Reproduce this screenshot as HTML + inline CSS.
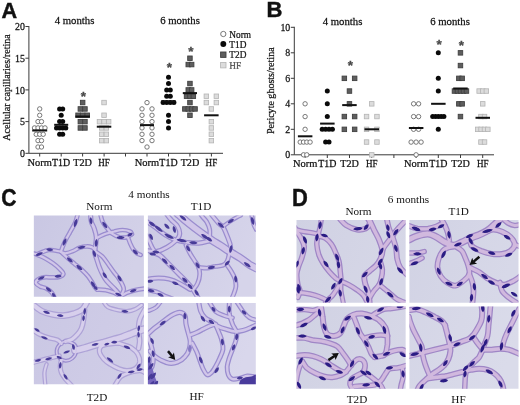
<!DOCTYPE html>
<html><head><meta charset="utf-8"><title>Figure</title>
<style>
html,body{margin:0;padding:0;background:#fff;}
svg{display:block}
text{fill:#111;stroke:#111;stroke-width:0.25px}
.b{stroke:none}
.h{stroke:#111;stroke-width:0.45px}
</style></head><body>
<svg width="520" height="405" viewBox="0 0 520 405">
<rect width="520" height="405" fill="#fff"/>

<text class="h" transform="translate(1.6 17.5) scale(0.95 1)" font-size="22.8" font-weight="bold" font-family='"Liberation Sans", sans-serif'>A</text>
<text transform="translate(74.50 23.50) scale(0.96 1)" font-size="11.2" text-anchor="middle" font-family='"Liberation Serif", serif'>4 months</text>
<text transform="translate(180.00 23.50) scale(0.96 1)" font-size="11.2" text-anchor="middle" font-family='"Liberation Serif", serif'>6 months</text>
<path d="M28.9 26.000000000000014V153.3H223" fill="none" stroke="#3a3a3a" stroke-width="1"/>
<path d="M39.7 153.3v3.2" stroke="#3a3a3a" stroke-width="1"/>
<path d="M61.2 153.3v3.2" stroke="#3a3a3a" stroke-width="1"/>
<path d="M82.6 153.3v3.2" stroke="#3a3a3a" stroke-width="1"/>
<path d="M104.1 153.3v3.2" stroke="#3a3a3a" stroke-width="1"/>
<path d="M125.5 153.3v3.2" stroke="#3a3a3a" stroke-width="1"/>
<path d="M147.0 153.3v3.2" stroke="#3a3a3a" stroke-width="1"/>
<path d="M168.5 153.3v3.2" stroke="#3a3a3a" stroke-width="1"/>
<path d="M189.9 153.3v3.2" stroke="#3a3a3a" stroke-width="1"/>
<path d="M211.4 153.3v3.2" stroke="#3a3a3a" stroke-width="1"/>
<path d="M28.9 153.3h-3.5" stroke="#3a3a3a" stroke-width="1"/>
<text transform="translate(24.90 156.90) scale(0.92 1)" font-size="10.8" text-anchor="end" font-family='"Liberation Serif", serif'>0</text>
<path d="M28.9 121.6h-3.5" stroke="#3a3a3a" stroke-width="1"/>
<text transform="translate(24.90 125.20) scale(0.92 1)" font-size="10.8" text-anchor="end" font-family='"Liberation Serif", serif'>5</text>
<path d="M28.9 89.9h-3.5" stroke="#3a3a3a" stroke-width="1"/>
<text transform="translate(24.90 93.50) scale(0.92 1)" font-size="10.8" text-anchor="end" font-family='"Liberation Serif", serif'>10</text>
<path d="M28.9 58.2h-3.5" stroke="#3a3a3a" stroke-width="1"/>
<text transform="translate(24.90 61.80) scale(0.92 1)" font-size="10.8" text-anchor="end" font-family='"Liberation Serif", serif'>15</text>
<path d="M28.9 26.5h-3.5" stroke="#3a3a3a" stroke-width="1"/>
<text transform="translate(24.90 30.10) scale(0.92 1)" font-size="10.8" text-anchor="end" font-family='"Liberation Serif", serif'>20</text>
<text transform="translate(39.70 165.60) scale(0.97 1)" font-size="10.8" text-anchor="middle" font-family='"Liberation Serif", serif'>Norm</text>
<text transform="translate(61.16 165.60) scale(0.92 1)" font-size="10.8" text-anchor="middle" font-family='"Liberation Serif", serif'>T1D</text>
<text transform="translate(82.62 165.60) scale(0.94 1)" font-size="10.8" text-anchor="middle" font-family='"Liberation Serif", serif'>T2D</text>
<text transform="translate(104.08 165.60) scale(0.84 1)" font-size="10.8" text-anchor="middle" font-family='"Liberation Serif", serif'>HF</text>
<text transform="translate(147.00 165.60) scale(0.97 1)" font-size="10.8" text-anchor="middle" font-family='"Liberation Serif", serif'>Norm</text>
<text transform="translate(168.46 165.60) scale(0.92 1)" font-size="10.8" text-anchor="middle" font-family='"Liberation Serif", serif'>T1D</text>
<text transform="translate(189.92 165.60) scale(0.94 1)" font-size="10.8" text-anchor="middle" font-family='"Liberation Serif", serif'>T2D</text>
<text transform="translate(211.38 165.60) scale(0.84 1)" font-size="10.8" text-anchor="middle" font-family='"Liberation Serif", serif'>HF</text>
<text transform="translate(9.9 87.5) rotate(-90) scale(0.92 1)" font-size="10.9" text-anchor="middle" font-family='"Liberation Serif", serif'>Acellular capillaries/retina</text>
<circle cx="39.7" cy="108.9" r="2.1999999999999997" fill="#fff" stroke="#6a6a6a" stroke-width="0.9"/>
<circle cx="39.7" cy="115.3" r="2.1999999999999997" fill="#fff" stroke="#6a6a6a" stroke-width="0.9"/>
<circle cx="38.0" cy="121.6" r="2.1999999999999997" fill="#fff" stroke="#6a6a6a" stroke-width="0.9"/>
<circle cx="41.5" cy="121.6" r="2.1999999999999997" fill="#fff" stroke="#6a6a6a" stroke-width="0.9"/>
<circle cx="34.5" cy="127.9" r="2.1999999999999997" fill="#fff" stroke="#6a6a6a" stroke-width="0.9"/>
<circle cx="38.0" cy="127.9" r="2.1999999999999997" fill="#fff" stroke="#6a6a6a" stroke-width="0.9"/>
<circle cx="41.5" cy="127.9" r="2.1999999999999997" fill="#fff" stroke="#6a6a6a" stroke-width="0.9"/>
<circle cx="45.0" cy="127.9" r="2.1999999999999997" fill="#fff" stroke="#6a6a6a" stroke-width="0.9"/>
<circle cx="36.2" cy="134.3" r="2.1999999999999997" fill="#fff" stroke="#6a6a6a" stroke-width="0.9"/>
<circle cx="39.7" cy="134.3" r="2.1999999999999997" fill="#fff" stroke="#6a6a6a" stroke-width="0.9"/>
<circle cx="43.2" cy="134.3" r="2.1999999999999997" fill="#fff" stroke="#6a6a6a" stroke-width="0.9"/>
<circle cx="38.0" cy="140.6" r="2.1999999999999997" fill="#fff" stroke="#6a6a6a" stroke-width="0.9"/>
<circle cx="41.5" cy="140.6" r="2.1999999999999997" fill="#fff" stroke="#6a6a6a" stroke-width="0.9"/>
<circle cx="38.0" cy="147.0" r="2.1999999999999997" fill="#fff" stroke="#6a6a6a" stroke-width="0.9"/>
<circle cx="41.5" cy="147.0" r="2.1999999999999997" fill="#fff" stroke="#6a6a6a" stroke-width="0.9"/>
<rect x="32.2" y="129.5" width="15" height="2" fill="#111"/>
<circle cx="59.6" cy="108.9" r="2.5" fill="#0a0a0a"/>
<circle cx="62.7" cy="108.9" r="2.5" fill="#0a0a0a"/>
<circle cx="61.2" cy="115.3" r="2.5" fill="#0a0a0a"/>
<circle cx="59.6" cy="121.6" r="2.5" fill="#0a0a0a"/>
<circle cx="62.7" cy="121.6" r="2.5" fill="#0a0a0a"/>
<circle cx="56.5" cy="127.9" r="2.5" fill="#0a0a0a"/>
<circle cx="59.6" cy="127.9" r="2.5" fill="#0a0a0a"/>
<circle cx="62.7" cy="127.9" r="2.5" fill="#0a0a0a"/>
<circle cx="65.8" cy="127.9" r="2.5" fill="#0a0a0a"/>
<circle cx="59.6" cy="134.3" r="2.5" fill="#0a0a0a"/>
<circle cx="62.7" cy="134.3" r="2.5" fill="#0a0a0a"/>
<rect x="54.2" y="123.8" width="14" height="2" fill="#111"/>
<rect x="80.4" y="100.3" width="4.5" height="4.5" fill="#5e5e5e" stroke="#404040" stroke-width="0.9"/>
<rect x="78.1" y="106.7" width="4.5" height="4.5" fill="#5e5e5e" stroke="#404040" stroke-width="0.9"/>
<rect x="82.7" y="106.7" width="4.5" height="4.5" fill="#5e5e5e" stroke="#404040" stroke-width="0.9"/>
<rect x="75.8" y="113.0" width="4.5" height="4.5" fill="#5e5e5e" stroke="#404040" stroke-width="0.9"/>
<rect x="80.4" y="113.0" width="4.5" height="4.5" fill="#5e5e5e" stroke="#404040" stroke-width="0.9"/>
<rect x="85.0" y="113.0" width="4.5" height="4.5" fill="#5e5e5e" stroke="#404040" stroke-width="0.9"/>
<rect x="78.1" y="119.4" width="4.5" height="4.5" fill="#5e5e5e" stroke="#404040" stroke-width="0.9"/>
<rect x="82.7" y="119.4" width="4.5" height="4.5" fill="#5e5e5e" stroke="#404040" stroke-width="0.9"/>
<rect x="78.1" y="125.7" width="4.5" height="4.5" fill="#5e5e5e" stroke="#404040" stroke-width="0.9"/>
<rect x="82.7" y="125.7" width="4.5" height="4.5" fill="#5e5e5e" stroke="#404040" stroke-width="0.9"/>
<rect x="75.4" y="115.5" width="14.5" height="2" fill="#111"/>
<rect x="101.8" y="100.3" width="4.5" height="4.5" fill="#dcdcdc" stroke="#b4b4b4" stroke-width="0.8"/>
<rect x="101.8" y="113.0" width="4.5" height="4.5" fill="#dcdcdc" stroke="#b4b4b4" stroke-width="0.8"/>
<rect x="97.2" y="119.4" width="4.5" height="4.5" fill="#dcdcdc" stroke="#b4b4b4" stroke-width="0.8"/>
<rect x="101.8" y="119.4" width="4.5" height="4.5" fill="#dcdcdc" stroke="#b4b4b4" stroke-width="0.8"/>
<rect x="106.4" y="119.4" width="4.5" height="4.5" fill="#dcdcdc" stroke="#b4b4b4" stroke-width="0.8"/>
<rect x="99.5" y="125.7" width="4.5" height="4.5" fill="#dcdcdc" stroke="#b4b4b4" stroke-width="0.8"/>
<rect x="104.1" y="125.7" width="4.5" height="4.5" fill="#dcdcdc" stroke="#b4b4b4" stroke-width="0.8"/>
<rect x="99.5" y="132.0" width="4.5" height="4.5" fill="#dcdcdc" stroke="#b4b4b4" stroke-width="0.8"/>
<rect x="104.1" y="132.0" width="4.5" height="4.5" fill="#dcdcdc" stroke="#b4b4b4" stroke-width="0.8"/>
<rect x="99.5" y="138.4" width="4.5" height="4.5" fill="#dcdcdc" stroke="#b4b4b4" stroke-width="0.8"/>
<rect x="104.1" y="138.4" width="4.5" height="4.5" fill="#dcdcdc" stroke="#b4b4b4" stroke-width="0.8"/>
<rect x="96.8" y="125.7" width="14.5" height="2" fill="#111"/>
<text x="83.5" y="101.1" font-size="13.5" font-weight="bold" text-anchor="middle" style="fill:#4a4a4a;stroke:#4a4a4a;stroke-width:0.3px" font-family='"Liberation Sans", sans-serif'>*</text>
<circle cx="147.0" cy="102.6" r="2.1999999999999997" fill="#fff" stroke="#6a6a6a" stroke-width="0.9"/>
<circle cx="142.0" cy="108.9" r="2.1999999999999997" fill="#fff" stroke="#6a6a6a" stroke-width="0.9"/>
<circle cx="152.0" cy="108.9" r="2.1999999999999997" fill="#fff" stroke="#6a6a6a" stroke-width="0.9"/>
<circle cx="142.0" cy="115.3" r="2.1999999999999997" fill="#fff" stroke="#6a6a6a" stroke-width="0.9"/>
<circle cx="152.0" cy="115.3" r="2.1999999999999997" fill="#fff" stroke="#6a6a6a" stroke-width="0.9"/>
<circle cx="142.0" cy="121.6" r="2.1999999999999997" fill="#fff" stroke="#6a6a6a" stroke-width="0.9"/>
<circle cx="152.0" cy="121.6" r="2.1999999999999997" fill="#fff" stroke="#6a6a6a" stroke-width="0.9"/>
<circle cx="142.0" cy="127.9" r="2.1999999999999997" fill="#fff" stroke="#6a6a6a" stroke-width="0.9"/>
<circle cx="152.0" cy="127.9" r="2.1999999999999997" fill="#fff" stroke="#6a6a6a" stroke-width="0.9"/>
<circle cx="142.0" cy="134.3" r="2.1999999999999997" fill="#fff" stroke="#6a6a6a" stroke-width="0.9"/>
<circle cx="152.0" cy="134.3" r="2.1999999999999997" fill="#fff" stroke="#6a6a6a" stroke-width="0.9"/>
<circle cx="142.0" cy="140.6" r="2.1999999999999997" fill="#fff" stroke="#6a6a6a" stroke-width="0.9"/>
<circle cx="152.0" cy="140.6" r="2.1999999999999997" fill="#fff" stroke="#6a6a6a" stroke-width="0.9"/>
<circle cx="147.0" cy="147.0" r="2.1999999999999997" fill="#fff" stroke="#6a6a6a" stroke-width="0.9"/>
<rect x="140.0" y="124.1" width="14" height="2" fill="#111"/>
<circle cx="168.5" cy="77.2" r="2.5" fill="#0a0a0a"/>
<circle cx="168.5" cy="83.6" r="2.5" fill="#0a0a0a"/>
<circle cx="166.7" cy="89.9" r="2.5" fill="#0a0a0a"/>
<circle cx="170.3" cy="89.9" r="2.5" fill="#0a0a0a"/>
<circle cx="166.7" cy="96.2" r="2.5" fill="#0a0a0a"/>
<circle cx="170.3" cy="96.2" r="2.5" fill="#0a0a0a"/>
<circle cx="163.1" cy="102.6" r="2.5" fill="#0a0a0a"/>
<circle cx="166.7" cy="102.6" r="2.5" fill="#0a0a0a"/>
<circle cx="170.3" cy="102.6" r="2.5" fill="#0a0a0a"/>
<circle cx="173.9" cy="102.6" r="2.5" fill="#0a0a0a"/>
<circle cx="168.5" cy="115.3" r="2.5" fill="#0a0a0a"/>
<circle cx="168.5" cy="121.6" r="2.5" fill="#0a0a0a"/>
<circle cx="168.5" cy="127.9" r="2.5" fill="#0a0a0a"/>
<rect x="161.2" y="100.3" width="14.5" height="2" fill="#111"/>
<rect x="187.7" y="56.0" width="4.5" height="4.5" fill="#5e5e5e" stroke="#404040" stroke-width="0.9"/>
<rect x="186.0" y="62.3" width="4.5" height="4.5" fill="#5e5e5e" stroke="#404040" stroke-width="0.9"/>
<rect x="189.4" y="62.3" width="4.5" height="4.5" fill="#5e5e5e" stroke="#404040" stroke-width="0.9"/>
<rect x="187.7" y="81.3" width="4.5" height="4.5" fill="#5e5e5e" stroke="#404040" stroke-width="0.9"/>
<rect x="186.0" y="87.7" width="4.5" height="4.5" fill="#5e5e5e" stroke="#404040" stroke-width="0.9"/>
<rect x="189.4" y="87.7" width="4.5" height="4.5" fill="#5e5e5e" stroke="#404040" stroke-width="0.9"/>
<rect x="184.3" y="94.0" width="4.5" height="4.5" fill="#5e5e5e" stroke="#404040" stroke-width="0.9"/>
<rect x="187.7" y="94.0" width="4.5" height="4.5" fill="#5e5e5e" stroke="#404040" stroke-width="0.9"/>
<rect x="191.1" y="94.0" width="4.5" height="4.5" fill="#5e5e5e" stroke="#404040" stroke-width="0.9"/>
<rect x="187.7" y="100.3" width="4.5" height="4.5" fill="#5e5e5e" stroke="#404040" stroke-width="0.9"/>
<rect x="182.6" y="106.7" width="4.5" height="4.5" fill="#5e5e5e" stroke="#404040" stroke-width="0.9"/>
<rect x="186.0" y="106.7" width="4.5" height="4.5" fill="#5e5e5e" stroke="#404040" stroke-width="0.9"/>
<rect x="189.4" y="106.7" width="4.5" height="4.5" fill="#5e5e5e" stroke="#404040" stroke-width="0.9"/>
<rect x="192.8" y="106.7" width="4.5" height="4.5" fill="#5e5e5e" stroke="#404040" stroke-width="0.9"/>
<rect x="187.7" y="113.0" width="4.5" height="4.5" fill="#5e5e5e" stroke="#404040" stroke-width="0.9"/>
<rect x="182.8" y="92.1" width="14.2" height="2" fill="#111"/>
<rect x="204.1" y="94.0" width="4.5" height="4.5" fill="#dcdcdc" stroke="#b4b4b4" stroke-width="0.8"/>
<rect x="214.1" y="94.0" width="4.5" height="4.5" fill="#dcdcdc" stroke="#b4b4b4" stroke-width="0.8"/>
<rect x="204.1" y="100.3" width="4.5" height="4.5" fill="#dcdcdc" stroke="#b4b4b4" stroke-width="0.8"/>
<rect x="214.1" y="100.3" width="4.5" height="4.5" fill="#dcdcdc" stroke="#b4b4b4" stroke-width="0.8"/>
<rect x="209.1" y="106.7" width="4.5" height="4.5" fill="#dcdcdc" stroke="#b4b4b4" stroke-width="0.8"/>
<rect x="209.1" y="119.4" width="4.5" height="4.5" fill="#dcdcdc" stroke="#b4b4b4" stroke-width="0.8"/>
<rect x="209.1" y="125.7" width="4.5" height="4.5" fill="#dcdcdc" stroke="#b4b4b4" stroke-width="0.8"/>
<rect x="209.1" y="132.0" width="4.5" height="4.5" fill="#dcdcdc" stroke="#b4b4b4" stroke-width="0.8"/>
<rect x="209.1" y="138.4" width="4.5" height="4.5" fill="#dcdcdc" stroke="#b4b4b4" stroke-width="0.8"/>
<rect x="204.1" y="114.3" width="14.5" height="2" fill="#111"/>
<text x="169.4" y="71.6" font-size="13.5" font-weight="bold" text-anchor="middle" style="fill:#4a4a4a;stroke:#4a4a4a;stroke-width:0.3px" font-family='"Liberation Sans", sans-serif'>*</text>
<text x="190.8" y="56.1" font-size="13.5" font-weight="bold" text-anchor="middle" style="fill:#4a4a4a;stroke:#4a4a4a;stroke-width:0.3px" font-family='"Liberation Sans", sans-serif'>*</text>
<circle cx="223.3" cy="34.0" r="2.65" fill="#fff" stroke="#6a6a6a" stroke-width="0.9"/>
<text transform="translate(229.30 37.50) scale(0.88 1)" font-size="10.6" text-anchor="start" font-family='"Liberation Serif", serif' style="fill:#111">Norm</text>
<circle cx="223.3" cy="44.0" r="2.95" fill="#0a0a0a"/>
<text transform="translate(229.30 47.50) scale(0.88 1)" font-size="10.6" text-anchor="start" font-family='"Liberation Serif", serif' style="fill:#111">T1D</text>
<rect x="220.6" y="52.0" width="5.4" height="5.4" fill="#5e5e5e" stroke="#404040" stroke-width="0.9"/>
<text transform="translate(229.30 58.20) scale(0.88 1)" font-size="10.6" text-anchor="start" font-family='"Liberation Serif", serif' style="fill:#222">T2D</text>
<rect x="220.6" y="62.5" width="5.4" height="5.4" fill="#dcdcdc" stroke="#b4b4b4" stroke-width="0.8"/>
<text transform="translate(229.30 68.70) scale(0.88 1)" font-size="10.6" text-anchor="start" font-family='"Liberation Serif", serif' style="fill:#777">HF</text>
<text class="h" transform="translate(266.5 16.75) scale(1.0 1)" font-size="22" font-weight="bold" font-family='"Liberation Sans", sans-serif'>B</text>
<text transform="translate(342.50 25.30) scale(0.96 1)" font-size="11.2" text-anchor="middle" font-family='"Liberation Serif", serif'>4 months</text>
<text transform="translate(450.00 25.30) scale(0.96 1)" font-size="11.2" text-anchor="middle" font-family='"Liberation Serif", serif'>6 months</text>
<path d="M294.3 26.80000000000001V154.8H494" fill="none" stroke="#3a3a3a" stroke-width="1"/>
<path d="M305.1 154.8v3.2" stroke="#3a3a3a" stroke-width="1"/>
<path d="M327.3 154.8v3.2" stroke="#3a3a3a" stroke-width="1"/>
<path d="M349.5 154.8v3.2" stroke="#3a3a3a" stroke-width="1"/>
<path d="M371.7 154.8v3.2" stroke="#3a3a3a" stroke-width="1"/>
<path d="M393.9 154.8v3.2" stroke="#3a3a3a" stroke-width="1"/>
<path d="M416.1 154.8v3.2" stroke="#3a3a3a" stroke-width="1"/>
<path d="M438.3 154.8v3.2" stroke="#3a3a3a" stroke-width="1"/>
<path d="M460.5 154.8v3.2" stroke="#3a3a3a" stroke-width="1"/>
<path d="M482.7 154.8v3.2" stroke="#3a3a3a" stroke-width="1"/>
<path d="M294.3 154.8h-3.5" stroke="#3a3a3a" stroke-width="1"/>
<text transform="translate(290.30 158.40) scale(0.92 1)" font-size="10.8" text-anchor="end" font-family='"Liberation Serif", serif'>0</text>
<path d="M294.3 129.3h-3.5" stroke="#3a3a3a" stroke-width="1"/>
<text transform="translate(290.30 132.90) scale(0.92 1)" font-size="10.8" text-anchor="end" font-family='"Liberation Serif", serif'>2</text>
<path d="M294.3 103.8h-3.5" stroke="#3a3a3a" stroke-width="1"/>
<text transform="translate(290.30 107.40) scale(0.92 1)" font-size="10.8" text-anchor="end" font-family='"Liberation Serif", serif'>4</text>
<path d="M294.3 78.3h-3.5" stroke="#3a3a3a" stroke-width="1"/>
<text transform="translate(290.30 81.90) scale(0.92 1)" font-size="10.8" text-anchor="end" font-family='"Liberation Serif", serif'>6</text>
<path d="M294.3 52.8h-3.5" stroke="#3a3a3a" stroke-width="1"/>
<text transform="translate(290.30 56.40) scale(0.92 1)" font-size="10.8" text-anchor="end" font-family='"Liberation Serif", serif'>8</text>
<path d="M294.3 27.3h-3.5" stroke="#3a3a3a" stroke-width="1"/>
<text transform="translate(290.30 30.90) scale(0.92 1)" font-size="10.8" text-anchor="end" font-family='"Liberation Serif", serif'>10</text>
<text transform="translate(305.10 167.30) scale(0.97 1)" font-size="10.8" text-anchor="middle" font-family='"Liberation Serif", serif'>Norm</text>
<text transform="translate(327.30 167.30) scale(0.92 1)" font-size="10.8" text-anchor="middle" font-family='"Liberation Serif", serif'>T1D</text>
<text transform="translate(349.50 167.30) scale(0.94 1)" font-size="10.8" text-anchor="middle" font-family='"Liberation Serif", serif'>T2D</text>
<text transform="translate(371.70 167.30) scale(0.84 1)" font-size="10.8" text-anchor="middle" font-family='"Liberation Serif", serif'>HF</text>
<text transform="translate(416.10 167.30) scale(0.97 1)" font-size="10.8" text-anchor="middle" font-family='"Liberation Serif", serif'>Norm</text>
<text transform="translate(438.30 167.30) scale(0.92 1)" font-size="10.8" text-anchor="middle" font-family='"Liberation Serif", serif'>T1D</text>
<text transform="translate(460.50 167.30) scale(0.94 1)" font-size="10.8" text-anchor="middle" font-family='"Liberation Serif", serif'>T2D</text>
<text transform="translate(482.70 167.30) scale(0.84 1)" font-size="10.8" text-anchor="middle" font-family='"Liberation Serif", serif'>HF</text>
<text transform="translate(274.3 90.7) rotate(-90) scale(0.92 1)" font-size="10.9" text-anchor="middle" font-family='"Liberation Serif", serif'>Pericyte ghosts/retina</text>
<circle cx="305.1" cy="103.8" r="2.1999999999999997" fill="#fff" stroke="#6a6a6a" stroke-width="0.9"/>
<circle cx="305.1" cy="116.6" r="2.1999999999999997" fill="#fff" stroke="#6a6a6a" stroke-width="0.9"/>
<circle cx="305.1" cy="129.3" r="2.1999999999999997" fill="#fff" stroke="#6a6a6a" stroke-width="0.9"/>
<circle cx="300.2" cy="142.1" r="2.1999999999999997" fill="#fff" stroke="#6a6a6a" stroke-width="0.9"/>
<circle cx="303.5" cy="142.1" r="2.1999999999999997" fill="#fff" stroke="#6a6a6a" stroke-width="0.9"/>
<circle cx="306.8" cy="142.1" r="2.1999999999999997" fill="#fff" stroke="#6a6a6a" stroke-width="0.9"/>
<circle cx="310.1" cy="142.1" r="2.1999999999999997" fill="#fff" stroke="#6a6a6a" stroke-width="0.9"/>
<circle cx="303.5" cy="154.8" r="2.1999999999999997" fill="#fff" stroke="#6a6a6a" stroke-width="0.9"/>
<circle cx="306.8" cy="154.8" r="2.1999999999999997" fill="#fff" stroke="#6a6a6a" stroke-width="0.9"/>
<rect x="297.9" y="135.3" width="14.5" height="2" fill="#111"/>
<circle cx="327.3" cy="91.1" r="2.5" fill="#0a0a0a"/>
<circle cx="327.3" cy="103.8" r="2.5" fill="#0a0a0a"/>
<circle cx="327.3" cy="116.6" r="2.5" fill="#0a0a0a"/>
<circle cx="322.2" cy="129.3" r="2.5" fill="#0a0a0a"/>
<circle cx="325.6" cy="129.3" r="2.5" fill="#0a0a0a"/>
<circle cx="329.0" cy="129.3" r="2.5" fill="#0a0a0a"/>
<circle cx="332.4" cy="129.3" r="2.5" fill="#0a0a0a"/>
<circle cx="325.6" cy="142.1" r="2.5" fill="#0a0a0a"/>
<circle cx="329.0" cy="142.1" r="2.5" fill="#0a0a0a"/>
<rect x="320.1" y="122.6" width="14.5" height="2" fill="#111"/>
<rect x="342.1" y="76.1" width="4.5" height="4.5" fill="#5e5e5e" stroke="#404040" stroke-width="0.9"/>
<rect x="352.4" y="76.1" width="4.5" height="4.5" fill="#5e5e5e" stroke="#404040" stroke-width="0.9"/>
<rect x="347.2" y="88.8" width="4.5" height="4.5" fill="#5e5e5e" stroke="#404040" stroke-width="0.9"/>
<rect x="347.2" y="101.6" width="4.5" height="4.5" fill="#5e5e5e" stroke="#404040" stroke-width="0.9"/>
<rect x="342.1" y="114.3" width="4.5" height="4.5" fill="#5e5e5e" stroke="#404040" stroke-width="0.9"/>
<rect x="352.4" y="114.3" width="4.5" height="4.5" fill="#5e5e5e" stroke="#404040" stroke-width="0.9"/>
<rect x="342.1" y="127.1" width="4.5" height="4.5" fill="#5e5e5e" stroke="#404040" stroke-width="0.9"/>
<rect x="352.4" y="127.1" width="4.5" height="4.5" fill="#5e5e5e" stroke="#404040" stroke-width="0.9"/>
<rect x="342.2" y="104.1" width="14.5" height="2" fill="#111"/>
<rect x="369.5" y="101.6" width="4.5" height="4.5" fill="#dcdcdc" stroke="#b4b4b4" stroke-width="0.8"/>
<rect x="364.3" y="114.3" width="4.5" height="4.5" fill="#dcdcdc" stroke="#b4b4b4" stroke-width="0.8"/>
<rect x="374.7" y="114.3" width="4.5" height="4.5" fill="#dcdcdc" stroke="#b4b4b4" stroke-width="0.8"/>
<rect x="364.3" y="127.1" width="4.5" height="4.5" fill="#dcdcdc" stroke="#b4b4b4" stroke-width="0.8"/>
<rect x="374.7" y="127.1" width="4.5" height="4.5" fill="#dcdcdc" stroke="#b4b4b4" stroke-width="0.8"/>
<rect x="364.3" y="139.8" width="4.5" height="4.5" fill="#dcdcdc" stroke="#b4b4b4" stroke-width="0.8"/>
<rect x="374.7" y="139.8" width="4.5" height="4.5" fill="#dcdcdc" stroke="#b4b4b4" stroke-width="0.8"/>
<rect x="369.5" y="152.6" width="4.5" height="4.5" fill="#dcdcdc" stroke="#b4b4b4" stroke-width="0.8"/>
<rect x="364.5" y="128.3" width="14.5" height="2" fill="#111"/>
<text x="350.4" y="70.1" font-size="13.5" font-weight="bold" text-anchor="middle" style="fill:#4a4a4a;stroke:#4a4a4a;stroke-width:0.3px" font-family='"Liberation Sans", sans-serif'>*</text>
<circle cx="413.6" cy="103.8" r="2.1999999999999997" fill="#fff" stroke="#6a6a6a" stroke-width="0.9"/>
<circle cx="418.6" cy="103.8" r="2.1999999999999997" fill="#fff" stroke="#6a6a6a" stroke-width="0.9"/>
<circle cx="413.6" cy="116.6" r="2.1999999999999997" fill="#fff" stroke="#6a6a6a" stroke-width="0.9"/>
<circle cx="418.6" cy="116.6" r="2.1999999999999997" fill="#fff" stroke="#6a6a6a" stroke-width="0.9"/>
<circle cx="413.6" cy="129.3" r="2.1999999999999997" fill="#fff" stroke="#6a6a6a" stroke-width="0.9"/>
<circle cx="418.6" cy="129.3" r="2.1999999999999997" fill="#fff" stroke="#6a6a6a" stroke-width="0.9"/>
<circle cx="411.1" cy="142.1" r="2.1999999999999997" fill="#fff" stroke="#6a6a6a" stroke-width="0.9"/>
<circle cx="416.1" cy="142.1" r="2.1999999999999997" fill="#fff" stroke="#6a6a6a" stroke-width="0.9"/>
<circle cx="421.1" cy="142.1" r="2.1999999999999997" fill="#fff" stroke="#6a6a6a" stroke-width="0.9"/>
<circle cx="416.1" cy="154.8" r="2.1999999999999997" fill="#fff" stroke="#6a6a6a" stroke-width="0.9"/>
<rect x="408.9" y="127.0" width="14.5" height="2" fill="#111"/>
<circle cx="438.3" cy="52.8" r="2.5" fill="#0a0a0a"/>
<circle cx="438.3" cy="78.3" r="2.5" fill="#0a0a0a"/>
<circle cx="438.3" cy="91.1" r="2.5" fill="#0a0a0a"/>
<circle cx="432.7" cy="116.6" r="2.5" fill="#0a0a0a"/>
<circle cx="435.5" cy="116.6" r="2.5" fill="#0a0a0a"/>
<circle cx="438.3" cy="116.6" r="2.5" fill="#0a0a0a"/>
<circle cx="441.1" cy="116.6" r="2.5" fill="#0a0a0a"/>
<circle cx="443.9" cy="116.6" r="2.5" fill="#0a0a0a"/>
<circle cx="438.3" cy="129.3" r="2.5" fill="#0a0a0a"/>
<rect x="431.1" y="102.8" width="14.5" height="2" fill="#111"/>
<rect x="458.2" y="50.6" width="4.5" height="4.5" fill="#5e5e5e" stroke="#404040" stroke-width="0.9"/>
<rect x="458.2" y="63.3" width="4.5" height="4.5" fill="#5e5e5e" stroke="#404040" stroke-width="0.9"/>
<rect x="456.6" y="76.1" width="4.5" height="4.5" fill="#5e5e5e" stroke="#404040" stroke-width="0.9"/>
<rect x="459.9" y="76.1" width="4.5" height="4.5" fill="#5e5e5e" stroke="#404040" stroke-width="0.9"/>
<rect x="452.2" y="88.8" width="4.5" height="4.5" fill="#5e5e5e" stroke="#404040" stroke-width="0.9"/>
<rect x="455.2" y="88.8" width="4.5" height="4.5" fill="#5e5e5e" stroke="#404040" stroke-width="0.9"/>
<rect x="458.2" y="88.8" width="4.5" height="4.5" fill="#5e5e5e" stroke="#404040" stroke-width="0.9"/>
<rect x="461.2" y="88.8" width="4.5" height="4.5" fill="#5e5e5e" stroke="#404040" stroke-width="0.9"/>
<rect x="464.2" y="88.8" width="4.5" height="4.5" fill="#5e5e5e" stroke="#404040" stroke-width="0.9"/>
<rect x="456.6" y="101.6" width="4.5" height="4.5" fill="#5e5e5e" stroke="#404040" stroke-width="0.9"/>
<rect x="459.9" y="101.6" width="4.5" height="4.5" fill="#5e5e5e" stroke="#404040" stroke-width="0.9"/>
<rect x="458.2" y="114.3" width="4.5" height="4.5" fill="#5e5e5e" stroke="#404040" stroke-width="0.9"/>
<rect x="453.2" y="87.5" width="14.5" height="2" fill="#111"/>
<rect x="476.9" y="88.8" width="4.5" height="4.5" fill="#dcdcdc" stroke="#b4b4b4" stroke-width="0.8"/>
<rect x="480.5" y="88.8" width="4.5" height="4.5" fill="#dcdcdc" stroke="#b4b4b4" stroke-width="0.8"/>
<rect x="484.1" y="88.8" width="4.5" height="4.5" fill="#dcdcdc" stroke="#b4b4b4" stroke-width="0.8"/>
<rect x="480.5" y="101.6" width="4.5" height="4.5" fill="#dcdcdc" stroke="#b4b4b4" stroke-width="0.8"/>
<rect x="478.7" y="114.3" width="4.5" height="4.5" fill="#dcdcdc" stroke="#b4b4b4" stroke-width="0.8"/>
<rect x="482.3" y="114.3" width="4.5" height="4.5" fill="#dcdcdc" stroke="#b4b4b4" stroke-width="0.8"/>
<rect x="475.4" y="127.1" width="4.5" height="4.5" fill="#dcdcdc" stroke="#b4b4b4" stroke-width="0.8"/>
<rect x="478.8" y="127.1" width="4.5" height="4.5" fill="#dcdcdc" stroke="#b4b4b4" stroke-width="0.8"/>
<rect x="482.2" y="127.1" width="4.5" height="4.5" fill="#dcdcdc" stroke="#b4b4b4" stroke-width="0.8"/>
<rect x="485.6" y="127.1" width="4.5" height="4.5" fill="#dcdcdc" stroke="#b4b4b4" stroke-width="0.8"/>
<rect x="478.7" y="139.8" width="4.5" height="4.5" fill="#dcdcdc" stroke="#b4b4b4" stroke-width="0.8"/>
<rect x="482.3" y="139.8" width="4.5" height="4.5" fill="#dcdcdc" stroke="#b4b4b4" stroke-width="0.8"/>
<rect x="475.5" y="116.8" width="14.5" height="2" fill="#111"/>
<text x="439.2" y="48.6" font-size="13.5" font-weight="bold" text-anchor="middle" style="fill:#4a4a4a;stroke:#4a4a4a;stroke-width:0.3px" font-family='"Liberation Sans", sans-serif'>*</text>
<text x="461.4" y="49.6" font-size="13.5" font-weight="bold" text-anchor="middle" style="fill:#4a4a4a;stroke:#4a4a4a;stroke-width:0.3px" font-family='"Liberation Sans", sans-serif'>*</text>
<text class="h" transform="translate(1.2 206.3) scale(0.89 1)" font-size="23.8" font-weight="bold" font-family='"Liberation Sans", sans-serif'>C</text>
<text class="h" transform="translate(292 205.6) scale(0.93 1)" font-size="23.6" font-weight="bold" font-family='"Liberation Sans", sans-serif'>D</text>
<text class="b" x="149" y="197.5" font-size="11.2" text-anchor="middle" font-family='"Liberation Serif", serif'>4 months</text>
<text class="b" x="99.3" y="210" font-size="11.2" text-anchor="middle" font-family='"Liberation Serif", serif'>Norm</text>
<text class="b" x="201" y="210" font-size="11.2" text-anchor="middle" font-family='"Liberation Serif", serif'>T1D</text>
<text class="b" x="97" y="401" font-size="11.2" text-anchor="middle" font-family='"Liberation Serif", serif'>T2D</text>
<text class="b" x="196.6" y="400.4" font-size="11.2" text-anchor="middle" font-family='"Liberation Serif", serif'>HF</text>
<text class="b" x="408.5" y="202.8" font-size="11.2" text-anchor="middle" font-family='"Liberation Serif", serif'>6 months</text>
<text class="b" x="358.5" y="215.1" font-size="11.2" text-anchor="middle" font-family='"Liberation Serif", serif'>Norm</text>
<text class="b" x="458.7" y="215.1" font-size="11.2" text-anchor="middle" font-family='"Liberation Serif", serif'>T1D</text>
<text class="b" x="357" y="403" font-size="11.2" text-anchor="middle" font-family='"Liberation Serif", serif'>T2D</text>
<text class="b" x="458.5" y="403" font-size="11.2" text-anchor="middle" font-family='"Liberation Serif", serif'>HF</text>
<defs><filter id="blurA" x="-5%" y="-5%" width="110%" height="110%"><feGaussianBlur stdDeviation="0.75"/></filter><filter id="blurB" x="-5%" y="-5%" width="110%" height="110%"><feGaussianBlur stdDeviation="0.7"/></filter></defs>
<g transform="translate(33.85 215.6)">
<clipPath id="cpcN"><rect width="110.05" height="81.1"/></clipPath>
<linearGradient id="bgcN" x1="0" y1="0" x2="1" y2="0.3"><stop offset="0" stop-color="#c9c7e3"/><stop offset="1" stop-color="#d3d1e8"/></linearGradient>
<g clip-path="url(#cpcN)">
<rect x="-2" y="-2" width="114.05" height="85.1" fill="url(#bgcN)"/>
<g filter="url(#blurA)" fill="none" stroke-linecap="round" stroke-linejoin="round">
<path d="M43.8 -1.1C43.4 0.4 42.6 4.4 41.2 7.4C39.9 10.4 37.6 13.9 36.0 16.9C34.3 19.9 32.5 22.9 31.3 25.4C30.1 27.9 29.3 30.0 28.6 31.7C27.9 33.5 27.3 35.3 27.1 36.0" stroke="#9a8dcf" stroke-width="4.704000000000001"/>
<path d="M27.1 36.0C26.1 35.8 23.2 35.2 21.2 34.9C19.1 34.6 16.9 34.0 14.8 34.3C12.7 34.5 10.4 35.7 8.5 36.4C6.5 37.1 4.8 38.3 3.2 38.5C1.6 38.7 -0.4 37.8 -1.1 37.7" stroke="#9a8dcf" stroke-width="4.704000000000001"/>
<path d="M27.1 36.4C27.9 36.6 29.7 37.8 31.7 37.7C33.7 37.5 36.8 36.5 39.1 35.5C41.4 34.6 43.2 33.0 45.5 32.2C47.8 31.3 50.8 30.7 52.9 30.7C55.0 30.6 56.8 31.1 58.2 31.7C59.6 32.3 60.8 33.8 61.3 34.3" stroke="#9a8dcf" stroke-width="4.704000000000001"/>
<path d="M56.7 -1.1C56.8 0.2 56.9 4.1 57.5 6.3C58.1 8.6 59.5 10.2 60.3 12.7C61.1 15.2 62.2 18.3 62.4 21.2C62.7 24.0 62.0 27.0 61.8 29.6C61.5 32.3 60.7 34.7 60.9 37.0C61.1 39.3 62.1 40.9 62.8 43.4C63.6 45.8 64.6 49.3 65.6 51.8C66.6 54.4 67.5 56.5 68.8 58.8C70.0 61.1 70.9 63.0 73.0 65.6C75.1 68.1 79.3 71.7 81.4 74.0C83.6 76.3 85.0 78.4 85.7 79.3" stroke="#9a8dcf" stroke-width="5.152"/>
<path d="M66.6 -1.1C67.0 0.2 67.7 4.1 68.8 6.3C69.8 8.6 71.5 10.4 73.0 12.3C74.5 14.2 75.7 16.2 77.8 17.8C80.0 19.3 83.1 20.9 85.7 21.6C88.2 22.2 91.1 22.1 93.1 21.6C95.1 21.1 97.0 19.1 97.7 18.6" stroke="#9a8dcf" stroke-width="4.704000000000001"/>
<path d="M63.0 22.2C64.5 21.5 69.0 19.2 71.9 18.2C74.8 17.1 77.6 16.5 80.4 15.9C83.2 15.2 86.2 14.4 88.8 14.4C91.5 14.4 94.7 15.2 96.2 15.9C97.8 16.6 97.8 18.2 98.2 18.6" stroke="#9a8dcf" stroke-width="4.704000000000001"/>
<path d="M94.1 22.0C94.5 22.9 95.4 25.5 96.2 27.5C97.1 29.5 98.2 32.1 99.4 33.8C100.7 35.6 102.4 37.2 103.7 38.1C104.9 39.0 106.3 39.1 106.8 39.3" stroke="#9a8dcf" stroke-width="4.704000000000001"/>
<path d="M28.6 37.7C29.6 38.6 32.8 41.5 34.9 43.4C37.0 45.2 39.1 46.9 41.2 48.7C43.4 50.4 45.5 52.0 47.6 53.9C49.7 55.9 52.2 58.2 53.9 60.3C55.7 62.4 56.9 64.7 58.2 66.6C59.4 68.6 60.5 70.7 61.3 71.9C62.2 73.2 63.1 73.7 63.5 74.0" stroke="#9a8dcf" stroke-width="4.704000000000001"/>
<path d="M63.5 74.0C64.9 74.1 69.1 73.9 71.9 74.5C74.7 75.0 77.9 76.3 80.4 77.2C82.9 78.1 84.6 80.0 86.7 80.0C88.8 80.0 90.6 78.1 93.1 77.2C95.5 76.3 98.5 75.2 101.5 74.5C104.5 73.8 109.5 73.2 111.1 73.0" stroke="#9a8dcf" stroke-width="4.704000000000001"/>
<path d="M61.8 36.0C62.9 36.8 66.5 39.0 68.8 41.2C71.0 43.5 73.2 47.1 75.1 49.7C77.0 52.4 78.8 55.0 80.4 57.1C82.0 59.2 83.3 60.5 84.6 62.4C86.0 64.3 87.5 66.8 88.4 68.8C89.3 70.7 90.1 72.2 89.9 74.0C89.7 75.9 87.6 79.0 87.2 80.0" stroke="#9a8dcf" stroke-width="4.704000000000001"/>
<path d="M3.2 39.1C4.4 39.7 7.9 40.9 10.6 42.3C13.2 43.7 16.4 45.7 19.0 47.6C21.7 49.5 24.7 52.2 26.4 53.9C28.2 55.7 29.8 56.9 29.6 58.2C29.4 59.4 27.3 60.7 25.4 61.3C23.4 61.9 20.6 61.7 18.0 61.8C15.3 61.8 12.0 61.3 9.5 61.8C7.1 62.2 4.4 63.5 3.2 64.5C1.9 65.5 1.6 66.6 2.1 67.7C2.6 68.8 4.6 70.0 6.3 70.9C8.1 71.7 10.8 71.9 12.7 73.0C14.6 74.0 16.6 75.6 18.0 77.2C19.4 78.9 20.6 82.0 21.2 82.9" stroke="#9a8dcf" stroke-width="4.704000000000001"/>
<path d="M43.8 -1.1C43.4 0.4 42.6 4.4 41.2 7.4C39.9 10.4 37.6 13.9 36.0 16.9C34.3 19.9 32.5 22.9 31.3 25.4C30.1 27.9 29.3 30.0 28.6 31.7C27.9 33.5 27.3 35.3 27.1 36.0" stroke="#d1c6e9" stroke-width="2.2"/>
<path d="M27.1 36.0C26.1 35.8 23.2 35.2 21.2 34.9C19.1 34.6 16.9 34.0 14.8 34.3C12.7 34.5 10.4 35.7 8.5 36.4C6.5 37.1 4.8 38.3 3.2 38.5C1.6 38.7 -0.4 37.8 -1.1 37.7" stroke="#d1c6e9" stroke-width="2.2"/>
<path d="M27.1 36.4C27.9 36.6 29.7 37.8 31.7 37.7C33.7 37.5 36.8 36.5 39.1 35.5C41.4 34.6 43.2 33.0 45.5 32.2C47.8 31.3 50.8 30.7 52.9 30.7C55.0 30.6 56.8 31.1 58.2 31.7C59.6 32.3 60.8 33.8 61.3 34.3" stroke="#d1c6e9" stroke-width="2.2"/>
<path d="M56.7 -1.1C56.8 0.2 56.9 4.1 57.5 6.3C58.1 8.6 59.5 10.2 60.3 12.7C61.1 15.2 62.2 18.3 62.4 21.2C62.7 24.0 62.0 27.0 61.8 29.6C61.5 32.3 60.7 34.7 60.9 37.0C61.1 39.3 62.1 40.9 62.8 43.4C63.6 45.8 64.6 49.3 65.6 51.8C66.6 54.4 67.5 56.5 68.8 58.8C70.0 61.1 70.9 63.0 73.0 65.6C75.1 68.1 79.3 71.7 81.4 74.0C83.6 76.3 85.0 78.4 85.7 79.3" stroke="#d1c6e9" stroke-width="2.7"/>
<path d="M66.6 -1.1C67.0 0.2 67.7 4.1 68.8 6.3C69.8 8.6 71.5 10.4 73.0 12.3C74.5 14.2 75.7 16.2 77.8 17.8C80.0 19.3 83.1 20.9 85.7 21.6C88.2 22.2 91.1 22.1 93.1 21.6C95.1 21.1 97.0 19.1 97.7 18.6" stroke="#d1c6e9" stroke-width="2.2"/>
<path d="M63.0 22.2C64.5 21.5 69.0 19.2 71.9 18.2C74.8 17.1 77.6 16.5 80.4 15.9C83.2 15.2 86.2 14.4 88.8 14.4C91.5 14.4 94.7 15.2 96.2 15.9C97.8 16.6 97.8 18.2 98.2 18.6" stroke="#d1c6e9" stroke-width="2.2"/>
<path d="M94.1 22.0C94.5 22.9 95.4 25.5 96.2 27.5C97.1 29.5 98.2 32.1 99.4 33.8C100.7 35.6 102.4 37.2 103.7 38.1C104.9 39.0 106.3 39.1 106.8 39.3" stroke="#d1c6e9" stroke-width="2.2"/>
<path d="M28.6 37.7C29.6 38.6 32.8 41.5 34.9 43.4C37.0 45.2 39.1 46.9 41.2 48.7C43.4 50.4 45.5 52.0 47.6 53.9C49.7 55.9 52.2 58.2 53.9 60.3C55.7 62.4 56.9 64.7 58.2 66.6C59.4 68.6 60.5 70.7 61.3 71.9C62.2 73.2 63.1 73.7 63.5 74.0" stroke="#d1c6e9" stroke-width="2.2"/>
<path d="M63.5 74.0C64.9 74.1 69.1 73.9 71.9 74.5C74.7 75.0 77.9 76.3 80.4 77.2C82.9 78.1 84.6 80.0 86.7 80.0C88.8 80.0 90.6 78.1 93.1 77.2C95.5 76.3 98.5 75.2 101.5 74.5C104.5 73.8 109.5 73.2 111.1 73.0" stroke="#d1c6e9" stroke-width="2.2"/>
<path d="M61.8 36.0C62.9 36.8 66.5 39.0 68.8 41.2C71.0 43.5 73.2 47.1 75.1 49.7C77.0 52.4 78.8 55.0 80.4 57.1C82.0 59.2 83.3 60.5 84.6 62.4C86.0 64.3 87.5 66.8 88.4 68.8C89.3 70.7 90.1 72.2 89.9 74.0C89.7 75.9 87.6 79.0 87.2 80.0" stroke="#d1c6e9" stroke-width="2.2"/>
<path d="M3.2 39.1C4.4 39.7 7.9 40.9 10.6 42.3C13.2 43.7 16.4 45.7 19.0 47.6C21.7 49.5 24.7 52.2 26.4 53.9C28.2 55.7 29.8 56.9 29.6 58.2C29.4 59.4 27.3 60.7 25.4 61.3C23.4 61.9 20.6 61.7 18.0 61.8C15.3 61.8 12.0 61.3 9.5 61.8C7.1 62.2 4.4 63.5 3.2 64.5C1.9 65.5 1.6 66.6 2.1 67.7C2.6 68.8 4.6 70.0 6.3 70.9C8.1 71.7 10.8 71.9 12.7 73.0C14.6 74.0 16.6 75.6 18.0 77.2C19.4 78.9 20.6 82.0 21.2 82.9" stroke="#d1c6e9" stroke-width="2.2"/>
</g>
<g filter="url(#blurB)">
<path transform="translate(41.7 7.4) rotate(107)" d="M-4.4 0C-2.4 -2.00 2.4 -2.00 4.4 0C2.4 2.00 -2.4 2.00 -4.4 0Z" fill="#473a98"/>
<path transform="translate(30.7 26.4) rotate(113)" d="M-4.0 0C-2.2 -2.00 2.2 -2.00 4.0 0C2.2 2.00 -2.2 2.00 -4.0 0Z" fill="#473a98"/>
<path transform="translate(5.3 38.5) rotate(158)" d="M-4.0 0C-2.2 -2.00 2.2 -2.00 4.0 0C2.2 2.00 -2.2 2.00 -4.0 0Z" fill="#473a98"/>
<path transform="translate(15.9 34.1) rotate(-174)" d="M-3.6 0C-2.0 -2.00 2.0 -2.00 3.6 0C2.0 2.00 -2.0 2.00 -3.6 0Z" fill="#473a98"/>
<path transform="translate(47.6 31.7) rotate(-11)" d="M-4.2 0C-2.3 -2.00 2.3 -2.00 4.2 0C2.3 2.00 -2.3 2.00 -4.2 0Z" fill="#473a98"/>
<path transform="translate(57.1 5.3) rotate(83)" d="M-3.6 0C-2.0 -2.00 2.0 -2.00 3.6 0C2.0 2.00 -2.0 2.00 -3.6 0Z" fill="#473a98"/>
<path transform="translate(62.4 27.5) rotate(94)" d="M-4.0 0C-2.2 -2.00 2.2 -2.00 4.0 0C2.2 2.00 -2.2 2.00 -4.0 0Z" fill="#473a98"/>
<path transform="translate(60.5 38.1) rotate(73)" d="M-3.6 0C-2.0 -2.00 2.0 -2.00 3.6 0C2.0 2.00 -2.0 2.00 -3.6 0Z" fill="#473a98"/>
<path transform="translate(70.9 9.5) rotate(54)" d="M-4.0 0C-2.2 -2.00 2.2 -2.00 4.0 0C2.2 2.00 -2.2 2.00 -4.0 0Z" fill="#473a98"/>
<path transform="translate(86.7 21.8) rotate(0)" d="M-4.0 0C-2.2 -2.00 2.2 -2.00 4.0 0C2.2 2.00 -2.2 2.00 -4.0 0Z" fill="#473a98"/>
<path transform="translate(96.2 19.0) rotate(-32)" d="M-3.1 0C-1.7 -2.00 1.7 -2.00 3.1 0C1.7 2.00 -1.7 2.00 -3.1 0Z" fill="#473a98"/>
<path transform="translate(101.5 36.4) rotate(45)" d="M-3.6 0C-2.0 -2.00 2.0 -2.00 3.6 0C2.0 2.00 -2.0 2.00 -3.6 0Z" fill="#473a98"/>
<path transform="translate(36.0 44.4) rotate(40)" d="M-3.8 0C-2.1 -2.00 2.1 -2.00 3.8 0C2.1 2.00 -2.1 2.00 -3.8 0Z" fill="#473a98"/>
<path transform="translate(45.5 52.0) rotate(40)" d="M-3.8 0C-2.1 -2.00 2.1 -2.00 3.8 0C2.1 2.00 -2.1 2.00 -3.8 0Z" fill="#473a98"/>
<path transform="translate(59.2 68.8) rotate(59)" d="M-3.6 0C-2.0 -2.00 2.0 -2.00 3.6 0C2.0 2.00 -2.0 2.00 -3.6 0Z" fill="#473a98"/>
<path transform="translate(61.8 72.3) rotate(45)" d="M-2.7 0C-1.5 -2.00 1.5 -2.00 2.7 0C1.5 2.00 -1.5 2.00 -2.7 0Z" fill="#473a98"/>
<path transform="translate(84.6 78.9) rotate(23)" d="M-3.6 0C-2.0 -2.00 2.0 -2.00 3.6 0C2.0 2.00 -2.0 2.00 -3.6 0Z" fill="#473a98"/>
<path transform="translate(99.4 75.1) rotate(-18)" d="M-3.6 0C-2.0 -2.00 2.0 -2.00 3.6 0C2.0 2.00 -2.0 2.00 -3.6 0Z" fill="#473a98"/>
<path transform="translate(70.9 59.7) rotate(58)" d="M-3.6 0C-2.0 -2.00 2.0 -2.00 3.6 0C2.0 2.00 -2.0 2.00 -3.6 0Z" fill="#473a98"/>
<path transform="translate(85.7 62.8) rotate(59)" d="M-3.6 0C-2.0 -2.00 2.0 -2.00 3.6 0C2.0 2.00 -2.0 2.00 -3.6 0Z" fill="#473a98"/>
<path transform="translate(24.3 60.7) rotate(177)" d="M-3.6 0C-2.0 -2.00 2.0 -2.00 3.6 0C2.0 2.00 -2.0 2.00 -3.6 0Z" fill="#473a98"/>
<path transform="translate(7.4 62.4) rotate(157)" d="M-3.8 0C-2.1 -2.00 2.1 -2.00 3.8 0C2.1 2.00 -2.1 2.00 -3.8 0Z" fill="#473a98"/>
<path transform="translate(14.8 74.0) rotate(39)" d="M-3.6 0C-2.0 -2.00 2.0 -2.00 3.6 0C2.0 2.00 -2.0 2.00 -3.6 0Z" fill="#473a98"/>
<path transform="translate(20.1 80.0) rotate(61)" d="M-3.4 0C-1.8 -2.00 1.8 -2.00 3.4 0C1.8 2.00 -1.8 2.00 -3.4 0Z" fill="#473a98"/>
</g>
</g></g>
<g transform="translate(147.9 215.6)">
<clipPath id="cpcT1"><rect width="107.9" height="81.1"/></clipPath>
<linearGradient id="bgcT1" x1="0" y1="0" x2="1" y2="0.3"><stop offset="0" stop-color="#cccae5"/><stop offset="1" stop-color="#d6d4ea"/></linearGradient>
<g clip-path="url(#cpcT1)">
<rect x="-2" y="-2" width="111.9" height="85.1" fill="url(#bgcT1)"/>
<g filter="url(#blurA)" fill="none" stroke-linecap="round" stroke-linejoin="round">
<path d="M29.6 -1.7C31.6 -0.1 37.4 4.9 41.2 8.0C45.1 11.1 49.2 14.2 52.9 16.9C56.6 19.6 60.3 22.2 63.5 24.3C66.6 26.4 69.3 27.9 71.9 29.6C74.6 31.3 77.2 33.1 79.3 34.5C81.4 35.8 82.3 36.2 84.6 37.7C86.9 39.1 90.3 41.0 93.1 42.9C95.9 44.8 98.9 47.4 101.5 49.1C104.2 50.7 107.7 52.2 108.9 52.9" stroke="#9a8dcf" stroke-width="8.14"/>
<path d="M52.9 -1.1C53.3 -0.5 54.4 0.8 55.4 2.1C56.4 3.4 58.0 4.6 59.0 6.6C60.1 8.5 61.3 11.4 61.8 13.8C62.2 16.1 61.8 19.7 61.8 20.9" stroke="#9a8dcf" stroke-width="4.840000000000001"/>
<path d="M75.5 10.6C76.5 9.8 79.5 7.6 81.7 6.1C83.8 4.7 86.7 3.0 88.6 1.9C90.5 0.8 92.3 -0.0 93.1 -0.4" stroke="#9a8dcf" stroke-width="4.4"/>
<path d="M63.5 -1.1C64.7 0.4 68.9 5.7 70.9 7.8C72.8 9.9 73.9 9.8 75.1 11.4C76.3 13.0 77.0 15.0 78.1 17.6C79.2 20.1 80.9 24.5 81.7 26.9C82.4 29.2 82.7 29.9 82.7 31.7C82.7 33.6 81.7 37.0 81.4 38.1" stroke="#9a8dcf" stroke-width="5.06"/>
<path d="M103.7 -1.1C104.0 0.5 105.0 6.0 105.8 8.5C106.5 10.9 107.9 12.9 108.3 13.8" stroke="#9a8dcf" stroke-width="4.840000000000001"/>
<path d="M-1.1 5.9C0.5 7.1 5.5 10.5 8.5 12.7C11.5 14.9 13.8 17.1 16.9 19.0C20.1 21.0 24.0 23.1 27.5 24.3C31.0 25.6 34.2 26.1 38.1 26.7C42.0 27.2 46.9 27.7 50.8 27.5C54.6 27.3 59.6 25.7 61.3 25.4" stroke="#9a8dcf" stroke-width="5.06"/>
<path d="M-1.1 34.9C0.5 35.1 5.1 36.5 8.5 36.0C11.8 35.4 15.9 33.5 19.0 31.7C22.2 30.0 25.4 27.5 27.5 25.4C29.6 23.3 31.4 21.5 31.7 19.0C32.1 16.6 31.0 13.0 29.6 10.6C28.2 8.1 25.0 6.2 23.3 4.2C21.5 2.3 19.7 -0.2 19.0 -1.1" stroke="#9a8dcf" stroke-width="5.06"/>
<path d="M38.1 29.6C38.8 31.0 40.7 35.3 42.3 38.1C43.9 40.9 46.2 44.2 47.6 46.5C49.0 48.8 50.1 49.7 50.8 51.8C51.5 53.9 52.0 56.6 51.8 59.2C51.7 61.9 50.8 65.2 49.7 67.7C48.7 70.2 46.2 73.0 45.5 74.0" stroke="#9a8dcf" stroke-width="4.840000000000001"/>
<path d="M50.8 51.8C52.2 51.9 56.4 52.6 59.2 52.5C62.1 52.3 65.0 51.2 67.7 50.8C70.3 50.3 73.2 50.6 75.1 49.7C77.0 48.8 78.3 47.4 79.3 45.5C80.4 43.5 81.1 39.3 81.4 38.1" stroke="#9a8dcf" stroke-width="4.840000000000001"/>
<path d="M79.3 49.7C80.0 50.8 82.3 53.8 83.6 56.1C84.9 58.3 86.4 61.0 87.2 63.5C87.9 65.9 88.1 68.6 88.0 70.9C87.9 73.2 87.0 75.1 86.3 77.2C85.6 79.3 84.0 82.5 83.6 83.6" stroke="#9a8dcf" stroke-width="4.840000000000001"/>
<path d="M8.5 38.1C9.2 38.4 10.9 38.8 12.7 40.2C14.5 41.6 16.9 44.4 19.0 46.5C21.2 48.7 23.3 50.8 25.4 52.9C27.5 55.0 29.6 57.1 31.7 59.2C33.8 61.3 36.0 63.3 38.1 65.6C40.2 67.9 42.6 70.5 44.4 73.0C46.3 75.4 48.0 78.6 49.1 80.4C50.1 82.1 50.5 83.0 50.8 83.6" stroke="#9a8dcf" stroke-width="5.28"/>
<path d="M-1.1 63.5C0.9 63.3 6.9 62.4 10.6 62.4C14.3 62.4 17.6 62.6 21.2 63.5C24.7 64.3 28.2 65.9 31.7 67.7C35.3 69.5 40.5 73.0 42.3 74.0" stroke="#9a8dcf" stroke-width="4.840000000000001"/>
<path d="M-1.1 74.0C0.5 74.4 5.5 75.1 8.5 76.2C11.5 77.2 14.1 79.2 16.9 80.4C19.7 81.6 24.0 83.0 25.4 83.6" stroke="#9a8dcf" stroke-width="4.840000000000001"/>
<path d="M-1.1 20.1C-0.2 22.0 2.6 28.7 4.2 31.7C5.8 34.7 7.8 37.0 8.5 38.1" stroke="#9a8dcf" stroke-width="4.840000000000001"/>
<path d="M29.6 -1.7C31.6 -0.1 37.4 4.9 41.2 8.0C45.1 11.1 49.2 14.2 52.9 16.9C56.6 19.6 60.3 22.2 63.5 24.3C66.6 26.4 69.3 27.9 71.9 29.6C74.6 31.3 77.2 33.1 79.3 34.5C81.4 35.8 82.3 36.2 84.6 37.7C86.9 39.1 90.3 41.0 93.1 42.9C95.9 44.8 98.9 47.4 101.5 49.1C104.2 50.7 107.7 52.2 108.9 52.9" stroke="#d1c6e9" stroke-width="5.6"/>
<path d="M52.9 -1.1C53.3 -0.5 54.4 0.8 55.4 2.1C56.4 3.4 58.0 4.6 59.0 6.6C60.1 8.5 61.3 11.4 61.8 13.8C62.2 16.1 61.8 19.7 61.8 20.9" stroke="#d1c6e9" stroke-width="2.3"/>
<path d="M75.5 10.6C76.5 9.8 79.5 7.6 81.7 6.1C83.8 4.7 86.7 3.0 88.6 1.9C90.5 0.8 92.3 -0.0 93.1 -0.4" stroke="#d1c6e9" stroke-width="1.9"/>
<path d="M63.5 -1.1C64.7 0.4 68.9 5.7 70.9 7.8C72.8 9.9 73.9 9.8 75.1 11.4C76.3 13.0 77.0 15.0 78.1 17.6C79.2 20.1 80.9 24.5 81.7 26.9C82.4 29.2 82.7 29.9 82.7 31.7C82.7 33.6 81.7 37.0 81.4 38.1" stroke="#d1c6e9" stroke-width="2.6"/>
<path d="M103.7 -1.1C104.0 0.5 105.0 6.0 105.8 8.5C106.5 10.9 107.9 12.9 108.3 13.8" stroke="#d1c6e9" stroke-width="2.3"/>
<path d="M-1.1 5.9C0.5 7.1 5.5 10.5 8.5 12.7C11.5 14.9 13.8 17.1 16.9 19.0C20.1 21.0 24.0 23.1 27.5 24.3C31.0 25.6 34.2 26.1 38.1 26.7C42.0 27.2 46.9 27.7 50.8 27.5C54.6 27.3 59.6 25.7 61.3 25.4" stroke="#d1c6e9" stroke-width="2.6"/>
<path d="M-1.1 34.9C0.5 35.1 5.1 36.5 8.5 36.0C11.8 35.4 15.9 33.5 19.0 31.7C22.2 30.0 25.4 27.5 27.5 25.4C29.6 23.3 31.4 21.5 31.7 19.0C32.1 16.6 31.0 13.0 29.6 10.6C28.2 8.1 25.0 6.2 23.3 4.2C21.5 2.3 19.7 -0.2 19.0 -1.1" stroke="#d1c6e9" stroke-width="2.6"/>
<path d="M38.1 29.6C38.8 31.0 40.7 35.3 42.3 38.1C43.9 40.9 46.2 44.2 47.6 46.5C49.0 48.8 50.1 49.7 50.8 51.8C51.5 53.9 52.0 56.6 51.8 59.2C51.7 61.9 50.8 65.2 49.7 67.7C48.7 70.2 46.2 73.0 45.5 74.0" stroke="#d1c6e9" stroke-width="2.3"/>
<path d="M50.8 51.8C52.2 51.9 56.4 52.6 59.2 52.5C62.1 52.3 65.0 51.2 67.7 50.8C70.3 50.3 73.2 50.6 75.1 49.7C77.0 48.8 78.3 47.4 79.3 45.5C80.4 43.5 81.1 39.3 81.4 38.1" stroke="#d1c6e9" stroke-width="2.3"/>
<path d="M79.3 49.7C80.0 50.8 82.3 53.8 83.6 56.1C84.9 58.3 86.4 61.0 87.2 63.5C87.9 65.9 88.1 68.6 88.0 70.9C87.9 73.2 87.0 75.1 86.3 77.2C85.6 79.3 84.0 82.5 83.6 83.6" stroke="#d1c6e9" stroke-width="2.3"/>
<path d="M8.5 38.1C9.2 38.4 10.9 38.8 12.7 40.2C14.5 41.6 16.9 44.4 19.0 46.5C21.2 48.7 23.3 50.8 25.4 52.9C27.5 55.0 29.6 57.1 31.7 59.2C33.8 61.3 36.0 63.3 38.1 65.6C40.2 67.9 42.6 70.5 44.4 73.0C46.3 75.4 48.0 78.6 49.1 80.4C50.1 82.1 50.5 83.0 50.8 83.6" stroke="#d1c6e9" stroke-width="2.8"/>
<path d="M-1.1 63.5C0.9 63.3 6.9 62.4 10.6 62.4C14.3 62.4 17.6 62.6 21.2 63.5C24.7 64.3 28.2 65.9 31.7 67.7C35.3 69.5 40.5 73.0 42.3 74.0" stroke="#d1c6e9" stroke-width="2.3"/>
<path d="M-1.1 74.0C0.5 74.4 5.5 75.1 8.5 76.2C11.5 77.2 14.1 79.2 16.9 80.4C19.7 81.6 24.0 83.0 25.4 83.6" stroke="#d1c6e9" stroke-width="2.3"/>
<path d="M-1.1 20.1C-0.2 22.0 2.6 28.7 4.2 31.7C5.8 34.7 7.8 37.0 8.5 38.1" stroke="#d1c6e9" stroke-width="2.3"/>
</g>
<g filter="url(#blurB)">
<path transform="translate(34.9 2.1) rotate(40)" d="M-4.6 0C-2.5 -2.00 2.5 -2.00 4.6 0C2.5 2.00 -2.5 2.00 -4.6 0Z" fill="#473a98"/>
<path transform="translate(57.1 21.2) rotate(35)" d="M-4.6 0C-2.5 -2.00 2.5 -2.00 4.6 0C2.5 2.00 -2.5 2.00 -4.6 0Z" fill="#473a98"/>
<path transform="translate(61.3 23.7) rotate(35)" d="M-3.6 0C-2.0 -2.00 2.0 -2.00 3.6 0C2.0 2.00 -2.0 2.00 -3.6 0Z" fill="#473a98"/>
<path transform="translate(82.9 33.4) rotate(101)" d="M-4.2 0C-2.3 -2.00 2.3 -2.00 4.2 0C2.3 2.00 -2.3 2.00 -4.2 0Z" fill="#473a98"/>
<path transform="translate(99.4 49.1) rotate(36)" d="M-4.2 0C-2.3 -2.00 2.3 -2.00 4.2 0C2.3 2.00 -2.3 2.00 -4.2 0Z" fill="#473a98"/>
<path transform="translate(73.0 9.5) rotate(40)" d="M-4.2 0C-2.3 -2.00 2.3 -2.00 4.2 0C2.3 2.00 -2.3 2.00 -4.2 0Z" fill="#473a98"/>
<path transform="translate(82.9 5.5) rotate(-31)" d="M-3.6 0C-2.0 -2.00 2.0 -2.00 3.6 0C2.0 2.00 -2.0 2.00 -3.6 0Z" fill="#473a98"/>
<path transform="translate(104.7 5.3) rotate(77)" d="M-4.2 0C-2.3 -2.00 2.3 -2.00 4.2 0C2.3 2.00 -2.3 2.00 -4.2 0Z" fill="#473a98"/>
<path transform="translate(10.6 13.1) rotate(37)" d="M-5.3 0C-2.9 -2.00 2.9 -2.00 5.3 0C2.9 2.00 -2.9 2.00 -5.3 0Z" fill="#473a98"/>
<path transform="translate(21.2 20.7) rotate(27)" d="M-5.3 0C-2.9 -2.00 2.9 -2.00 5.3 0C2.9 2.00 -2.9 2.00 -5.3 0Z" fill="#473a98"/>
<path transform="translate(33.8 25.0) rotate(12)" d="M-5.3 0C-2.9 -2.00 2.9 -2.00 5.3 0C2.9 2.00 -2.9 2.00 -5.3 0Z" fill="#473a98"/>
<path transform="translate(45.5 27.1) rotate(4)" d="M-4.2 0C-2.3 -2.00 2.3 -2.00 4.2 0C2.3 2.00 -2.3 2.00 -4.2 0Z" fill="#473a98"/>
<path transform="translate(4.2 8.5) rotate(35)" d="M-3.8 0C-2.1 -2.00 2.1 -2.00 3.8 0C2.1 2.00 -2.1 2.00 -3.8 0Z" fill="#473a98"/>
<path transform="translate(19.0 10.6) rotate(-135)" d="M-3.6 0C-2.0 -2.00 2.0 -2.00 3.6 0C2.0 2.00 -2.0 2.00 -3.6 0Z" fill="#473a98"/>
<path transform="translate(26.4 13.8) rotate(-104)" d="M-3.6 0C-2.0 -2.00 2.0 -2.00 3.6 0C2.0 2.00 -2.0 2.00 -3.6 0Z" fill="#473a98"/>
<path transform="translate(40.2 32.8) rotate(63)" d="M-3.6 0C-2.0 -2.00 2.0 -2.00 3.6 0C2.0 2.00 -2.0 2.00 -3.6 0Z" fill="#473a98"/>
<path transform="translate(49.7 49.7) rotate(59)" d="M-3.6 0C-2.0 -2.00 2.0 -2.00 3.6 0C2.0 2.00 -2.0 2.00 -3.6 0Z" fill="#473a98"/>
<path transform="translate(63.5 51.8) rotate(-11)" d="M-3.8 0C-2.1 -2.00 2.1 -2.00 3.8 0C2.1 2.00 -2.1 2.00 -3.8 0Z" fill="#473a98"/>
<path transform="translate(79.3 47.6) rotate(-45)" d="M-3.4 0C-1.8 -2.00 1.8 -2.00 3.4 0C1.8 2.00 -1.8 2.00 -3.4 0Z" fill="#473a98"/>
<path transform="translate(87.8 63.5) rotate(83)" d="M-3.6 0C-2.0 -2.00 2.0 -2.00 3.6 0C2.0 2.00 -2.0 2.00 -3.6 0Z" fill="#473a98"/>
<path transform="translate(16.9 45.5) rotate(45)" d="M-4.0 0C-2.2 -2.00 2.2 -2.00 4.0 0C2.2 2.00 -2.2 2.00 -4.0 0Z" fill="#473a98"/>
<path transform="translate(24.3 51.8) rotate(45)" d="M-3.8 0C-2.1 -2.00 2.1 -2.00 3.8 0C2.1 2.00 -2.1 2.00 -3.8 0Z" fill="#473a98"/>
<path transform="translate(37.0 64.5) rotate(45)" d="M-3.8 0C-2.1 -2.00 2.1 -2.00 3.8 0C2.1 2.00 -2.1 2.00 -3.8 0Z" fill="#473a98"/>
<path transform="translate(42.3 70.9) rotate(49)" d="M-3.6 0C-2.0 -2.00 2.0 -2.00 3.6 0C2.0 2.00 -2.0 2.00 -3.6 0Z" fill="#473a98"/>
<path transform="translate(2.1 65.6) rotate(-5)" d="M-3.4 0C-1.8 -2.00 1.8 -2.00 3.4 0C1.8 2.00 -1.8 2.00 -3.4 0Z" fill="#473a98"/>
<path transform="translate(27.5 67.7) rotate(22)" d="M-3.6 0C-2.0 -2.00 2.0 -2.00 3.6 0C2.0 2.00 -2.0 2.00 -3.6 0Z" fill="#473a98"/>
<path transform="translate(3.2 75.1) rotate(13)" d="M-3.6 0C-2.0 -2.00 2.0 -2.00 3.6 0C2.0 2.00 -2.0 2.00 -3.6 0Z" fill="#473a98"/>
<path transform="translate(12.7 79.3) rotate(27)" d="M-3.6 0C-2.0 -2.00 2.0 -2.00 3.6 0C2.0 2.00 -2.0 2.00 -3.6 0Z" fill="#473a98"/>
<path transform="translate(3.2 21.2) rotate(66)" d="M-3.6 0C-2.0 -2.00 2.0 -2.00 3.6 0C2.0 2.00 -2.0 2.00 -3.6 0Z" fill="#473a98"/>
<path transform="translate(8.0 36.4) rotate(6)" d="M-3.6 0C-2.0 -2.00 2.0 -2.00 3.6 0C2.0 2.00 -2.0 2.00 -3.6 0Z" fill="#473a98"/>
<path transform="translate(4.7 38.5) rotate(6)" d="M-3.4 0C-1.8 -2.00 1.8 -2.00 3.4 0C1.8 2.00 -1.8 2.00 -3.4 0Z" fill="#473a98"/>
<path transform="translate(48.7 77.2) rotate(58)" d="M-3.6 0C-2.0 -2.00 2.0 -2.00 3.6 0C2.0 2.00 -2.0 2.00 -3.6 0Z" fill="#473a98"/>
</g>
</g></g>
<g transform="translate(33.85 302.9)">
<clipPath id="cpcT2"><rect width="110.05" height="81.3"/></clipPath>
<linearGradient id="bgcT2" x1="0" y1="0" x2="1" y2="0.3"><stop offset="0" stop-color="#cac7e4"/><stop offset="1" stop-color="#d0cde7"/></linearGradient>
<g clip-path="url(#cpcT2)">
<rect x="-2" y="-2" width="114.05" height="85.3" fill="url(#bgcT2)"/>
<g filter="url(#blurA)" fill="none" stroke-linecap="round" stroke-linejoin="round">
<path d="M-1.1 1.7C0.5 2.8 5.1 6.8 8.5 8.5C11.8 10.1 15.5 10.9 19.0 11.6C22.6 12.3 26.1 12.9 29.6 12.7C33.1 12.5 37.0 11.6 40.2 10.6C43.4 9.5 46.5 8.3 48.7 6.3C50.8 4.4 52.5 0.2 53.3 -1.1" stroke="#aea3d7" stroke-width="6.6"/>
<path d="M50.8 7.4C50.6 9.0 50.2 13.9 49.7 16.9C49.2 19.9 48.7 22.9 47.6 25.4C46.5 27.9 45.0 29.9 43.4 31.7C41.8 33.6 40.0 35.3 38.1 36.4C36.1 37.5 32.8 38.1 31.7 38.5" stroke="#aea3d7" stroke-width="5.6"/>
<path d="M41.2 47.6C42.8 47.2 47.4 46.0 50.8 45.1C54.1 44.1 58.2 42.8 61.3 41.9C64.5 41.0 67.0 40.5 69.8 39.8C72.6 39.0 75.1 38.2 78.3 37.2C81.4 36.3 85.7 35.1 88.8 34.1C92.0 33.0 94.5 31.9 97.3 30.9C100.1 29.8 103.5 28.5 105.8 27.7C108.1 26.9 110.2 26.5 111.1 26.2" stroke="#aea3d7" stroke-width="8.0"/>
<path d="M84.6 40.2C82.9 40.4 76.9 40.7 74.0 41.2C71.1 41.8 68.7 42.1 67.3 43.4C65.9 44.7 65.2 47.0 65.6 49.1C66.0 51.2 68.0 54.0 69.8 56.1C71.6 58.1 73.7 59.8 76.2 61.3C78.6 62.9 81.8 64.5 84.6 65.6C87.4 66.6 90.3 67.7 93.1 67.7C95.9 67.7 99.4 67.0 101.5 65.6C103.7 64.2 105.4 61.7 105.8 59.2C106.1 56.8 105.1 53.2 103.7 50.8C102.2 48.4 99.4 46.3 97.3 44.8C95.2 43.4 93.1 43.1 91.0 42.3C88.8 41.5 85.7 40.5 84.6 40.2" stroke="#aea3d7" stroke-width="5.2"/>
<path d="M111.1 6.3C110.2 8.1 106.8 13.4 105.8 16.9C104.7 20.4 104.7 24.0 104.7 27.5C104.7 31.0 105.8 35.1 105.8 38.1C105.8 41.1 104.9 44.2 104.7 45.5" stroke="#aea3d7" stroke-width="5.6"/>
<path d="M25.4 52.9C24.0 53.2 19.7 54.3 16.9 55.0C14.1 55.7 11.5 56.3 8.5 57.1C5.5 57.9 0.5 59.2 -1.1 59.7" stroke="#aea3d7" stroke-width="5.2"/>
<path d="M27.5 57.1C27.3 58.2 26.4 61.3 26.4 63.5C26.4 65.6 26.6 67.7 27.5 69.8C28.4 71.9 29.9 73.9 31.7 76.2C33.6 78.4 37.4 82.3 38.5 83.6" stroke="#aea3d7" stroke-width="5.2"/>
<path d="M-1.1 27.1C0.2 27.9 3.7 30.4 6.3 31.7C9.0 33.0 12.0 34.0 14.8 34.9C17.6 35.8 21.2 36.1 23.3 37.0C25.4 38.0 26.8 40.0 27.5 40.6" stroke="#aea3d7" stroke-width="5.2"/>
<path d="M80.4 83.6C81.4 82.0 84.3 76.3 86.7 74.0C89.2 71.7 92.0 70.9 95.2 69.8C98.4 68.8 103.1 67.7 105.8 67.7C108.4 67.7 110.2 69.5 111.1 69.8" stroke="#aea3d7" stroke-width="5.2"/>
<path d="M12.7 61.3C12.3 62.8 10.8 66.1 10.6 69.8C10.4 73.5 11.5 81.3 11.6 83.6" stroke="#aea3d7" stroke-width="4.4"/>
<path d="M69.8 -1.1C70.5 -0.2 71.6 2.8 74.0 4.2C76.5 5.6 81.4 6.7 84.6 7.4C87.8 8.1 90.3 8.6 93.1 8.5C95.9 8.3 99.1 7.4 101.5 6.3C104.0 5.3 106.8 2.8 107.9 2.1" stroke="#aea3d7" stroke-width="4.6"/>
<path d="M32.8 38.1C34.1 38.6 39.0 39.7 40.6 41.5C42.2 43.2 42.7 46.3 42.3 48.7C42.0 51.0 40.3 53.9 38.5 55.4C36.7 56.9 34.0 57.9 31.7 57.8C29.5 57.6 26.4 56.3 25.0 54.6C23.5 52.9 22.6 49.9 22.8 47.6C23.1 45.3 25.0 42.2 26.7 40.6C28.3 39.0 31.8 38.5 32.8 38.1" stroke="#9a8dcf" stroke-width="4.0"/>
<path d="M-1.1 1.7C0.5 2.8 5.1 6.8 8.5 8.5C11.8 10.1 15.5 10.9 19.0 11.6C22.6 12.3 26.1 12.9 29.6 12.7C33.1 12.5 37.0 11.6 40.2 10.6C43.4 9.5 46.5 8.3 48.7 6.3C50.8 4.4 52.5 0.2 53.3 -1.1" stroke="#d7cfec" stroke-width="4.1"/>
<path d="M50.8 7.4C50.6 9.0 50.2 13.9 49.7 16.9C49.2 19.9 48.7 22.9 47.6 25.4C46.5 27.9 45.0 29.9 43.4 31.7C41.8 33.6 40.0 35.3 38.1 36.4C36.1 37.5 32.8 38.1 31.7 38.5" stroke="#d7cfec" stroke-width="3.1"/>
<path d="M41.2 47.6C42.8 47.2 47.4 46.0 50.8 45.1C54.1 44.1 58.2 42.8 61.3 41.9C64.5 41.0 67.0 40.5 69.8 39.8C72.6 39.0 75.1 38.2 78.3 37.2C81.4 36.3 85.7 35.1 88.8 34.1C92.0 33.0 94.5 31.9 97.3 30.9C100.1 29.8 103.5 28.5 105.8 27.7C108.1 26.9 110.2 26.5 111.1 26.2" stroke="#d7cfec" stroke-width="5.5"/>
<path d="M84.6 40.2C82.9 40.4 76.9 40.7 74.0 41.2C71.1 41.8 68.7 42.1 67.3 43.4C65.9 44.7 65.2 47.0 65.6 49.1C66.0 51.2 68.0 54.0 69.8 56.1C71.6 58.1 73.7 59.8 76.2 61.3C78.6 62.9 81.8 64.5 84.6 65.6C87.4 66.6 90.3 67.7 93.1 67.7C95.9 67.7 99.4 67.0 101.5 65.6C103.7 64.2 105.4 61.7 105.8 59.2C106.1 56.8 105.1 53.2 103.7 50.8C102.2 48.4 99.4 46.3 97.3 44.8C95.2 43.4 93.1 43.1 91.0 42.3C88.8 41.5 85.7 40.5 84.6 40.2" stroke="#d7cfec" stroke-width="2.7"/>
<path d="M111.1 6.3C110.2 8.1 106.8 13.4 105.8 16.9C104.7 20.4 104.7 24.0 104.7 27.5C104.7 31.0 105.8 35.1 105.8 38.1C105.8 41.1 104.9 44.2 104.7 45.5" stroke="#d7cfec" stroke-width="3.1"/>
<path d="M25.4 52.9C24.0 53.2 19.7 54.3 16.9 55.0C14.1 55.7 11.5 56.3 8.5 57.1C5.5 57.9 0.5 59.2 -1.1 59.7" stroke="#d7cfec" stroke-width="2.7"/>
<path d="M27.5 57.1C27.3 58.2 26.4 61.3 26.4 63.5C26.4 65.6 26.6 67.7 27.5 69.8C28.4 71.9 29.9 73.9 31.7 76.2C33.6 78.4 37.4 82.3 38.5 83.6" stroke="#d7cfec" stroke-width="2.7"/>
<path d="M-1.1 27.1C0.2 27.9 3.7 30.4 6.3 31.7C9.0 33.0 12.0 34.0 14.8 34.9C17.6 35.8 21.2 36.1 23.3 37.0C25.4 38.0 26.8 40.0 27.5 40.6" stroke="#d7cfec" stroke-width="2.7"/>
<path d="M80.4 83.6C81.4 82.0 84.3 76.3 86.7 74.0C89.2 71.7 92.0 70.9 95.2 69.8C98.4 68.8 103.1 67.7 105.8 67.7C108.4 67.7 110.2 69.5 111.1 69.8" stroke="#d7cfec" stroke-width="2.7"/>
<path d="M12.7 61.3C12.3 62.8 10.8 66.1 10.6 69.8C10.4 73.5 11.5 81.3 11.6 83.6" stroke="#d7cfec" stroke-width="1.9"/>
<path d="M69.8 -1.1C70.5 -0.2 71.6 2.8 74.0 4.2C76.5 5.6 81.4 6.7 84.6 7.4C87.8 8.1 90.3 8.6 93.1 8.5C95.9 8.3 99.1 7.4 101.5 6.3C104.0 5.3 106.8 2.8 107.9 2.1" stroke="#d7cfec" stroke-width="2.1"/>
<path d="M32.8 38.1C34.1 38.6 39.0 39.7 40.6 41.5C42.2 43.2 42.7 46.3 42.3 48.7C42.0 51.0 40.3 53.9 38.5 55.4C36.7 56.9 34.0 57.9 31.7 57.8C29.5 57.6 26.4 56.3 25.0 54.6C23.5 52.9 22.6 49.9 22.8 47.6C23.1 45.3 25.0 42.2 26.7 40.6C28.3 39.0 31.8 38.5 32.8 38.1" stroke="#d1c6e9" stroke-width="1.5"/>
</g>
<g filter="url(#blurB)">
<path transform="translate(12.7 9.5) rotate(17)" d="M-3.6 0C-2.0 -1.75 2.0 -1.75 3.6 0C2.0 1.75 -2.0 1.75 -3.6 0Z" fill="#473a98"/>
<path transform="translate(26.4 12.7) rotate(6)" d="M-3.4 0C-1.8 -1.75 1.8 -1.75 3.4 0C1.8 1.75 -1.8 1.75 -3.4 0Z" fill="#473a98"/>
<path transform="translate(50.8 8.5) rotate(96)" d="M-3.6 0C-2.0 -1.75 2.0 -1.75 3.6 0C2.0 1.75 -2.0 1.75 -3.6 0Z" fill="#473a98"/>
<path transform="translate(49.7 15.2) rotate(96)" d="M-3.1 0C-1.7 -1.75 1.7 -1.75 3.1 0C1.7 1.75 -1.7 1.75 -3.1 0Z" fill="#473a98"/>
<path transform="translate(32.8 49.1) rotate(161)" d="M-3.6 0C-2.0 -1.75 2.0 -1.75 3.6 0C2.0 1.75 -2.0 1.75 -3.6 0Z" fill="#473a98"/>
<path transform="translate(39.6 44.0) rotate(77)" d="M-3.1 0C-1.7 -1.75 1.7 -1.75 3.1 0C1.7 1.75 -1.7 1.75 -3.1 0Z" fill="#473a98"/>
<path transform="translate(61.3 41.5) rotate(-14)" d="M-3.6 0C-2.0 -1.75 2.0 -1.75 3.6 0C2.0 1.75 -2.0 1.75 -3.6 0Z" fill="#473a98"/>
<path transform="translate(80.4 39.3) rotate(174)" d="M-3.1 0C-1.7 -1.75 1.7 -1.75 3.1 0C1.7 1.75 -1.7 1.75 -3.1 0Z" fill="#473a98"/>
<path transform="translate(76.2 57.1) rotate(40)" d="M-4.2 0C-2.3 -1.75 2.3 -1.75 4.2 0C2.3 1.75 -2.3 1.75 -4.2 0Z" fill="#473a98"/>
<path transform="translate(93.1 44.4) rotate(-158)" d="M-3.6 0C-2.0 -1.75 2.0 -1.75 3.6 0C2.0 1.75 -2.0 1.75 -3.6 0Z" fill="#473a98"/>
<path transform="translate(104.7 63.5) rotate(-56)" d="M-3.4 0C-1.8 -1.75 1.8 -1.75 3.4 0C1.8 1.75 -1.8 1.75 -3.4 0Z" fill="#473a98"/>
<path transform="translate(91.0 8.5) rotate(7)" d="M-3.6 0C-2.0 -1.75 2.0 -1.75 3.6 0C2.0 1.75 -2.0 1.75 -3.6 0Z" fill="#473a98"/>
<path transform="translate(104.9 25.4) rotate(96)" d="M-3.4 0C-1.8 -1.75 1.8 -1.75 3.4 0C1.8 1.75 -1.8 1.75 -3.4 0Z" fill="#473a98"/>
<path transform="translate(14.8 55.8) rotate(166)" d="M-3.6 0C-2.0 -1.75 2.0 -1.75 3.6 0C2.0 1.75 -2.0 1.75 -3.6 0Z" fill="#473a98"/>
<path transform="translate(4.2 57.5) rotate(165)" d="M-3.4 0C-1.8 -1.75 1.8 -1.75 3.4 0C1.8 1.75 -1.8 1.75 -3.4 0Z" fill="#473a98"/>
<path transform="translate(26.4 62.4) rotate(99)" d="M-3.4 0C-1.8 -1.75 1.8 -1.75 3.4 0C1.8 1.75 -1.8 1.75 -3.4 0Z" fill="#473a98"/>
<path transform="translate(31.7 74.0) rotate(56)" d="M-3.4 0C-1.8 -1.75 1.8 -1.75 3.4 0C1.8 1.75 -1.8 1.75 -3.4 0Z" fill="#473a98"/>
<path transform="translate(10.6 34.9) rotate(21)" d="M-3.6 0C-2.0 -1.75 2.0 -1.75 3.6 0C2.0 1.75 -2.0 1.75 -3.6 0Z" fill="#473a98"/>
<path transform="translate(3.2 27.1) rotate(32)" d="M-3.1 0C-1.7 -1.75 1.7 -1.75 3.1 0C1.7 1.75 -1.7 1.75 -3.1 0Z" fill="#473a98"/>
<path transform="translate(85.7 73.2) rotate(-56)" d="M-3.4 0C-1.8 -1.75 1.8 -1.75 3.4 0C1.8 1.75 -1.8 1.75 -3.4 0Z" fill="#473a98"/>
<path transform="translate(97.3 69.0) rotate(-11)" d="M-3.6 0C-2.0 -1.75 2.0 -1.75 3.6 0C2.0 1.75 -2.0 1.75 -3.6 0Z" fill="#473a98"/>
<path transform="translate(105.8 66.8) rotate(-11)" d="M-3.1 0C-1.7 -1.75 1.7 -1.75 3.1 0C1.7 1.75 -1.7 1.75 -3.1 0Z" fill="#473a98"/>
<path transform="translate(25.4 54.6) rotate(-155)" d="M-2.9 0C-1.6 -1.75 1.6 -1.75 2.9 0C1.6 1.75 -1.6 1.75 -2.9 0Z" fill="#473a98"/>
<path transform="translate(104.7 31.7) rotate(84)" d="M-3.1 0C-1.7 -1.75 1.7 -1.75 3.1 0C1.7 1.75 -1.7 1.75 -3.1 0Z" fill="#473a98"/>
<path transform="translate(73.0 41.2) rotate(163)" d="M-2.7 0C-1.5 -1.75 1.5 -1.75 2.7 0C1.5 1.75 -1.5 1.75 -2.7 0Z" fill="#473a98"/>
</g>
</g></g>
<g transform="translate(147.9 302.9)">
<clipPath id="cpcHF"><rect width="107.9" height="81.3"/></clipPath>
<linearGradient id="bgcHF" x1="0" y1="0" x2="1" y2="0.3"><stop offset="0" stop-color="#d0cee7"/><stop offset="1" stop-color="#d9d7ec"/></linearGradient>
<g clip-path="url(#cpcHF)">
<rect x="-2" y="-2" width="111.9" height="85.3" fill="url(#bgcHF)"/>
<g filter="url(#blurA)" fill="none" stroke-linecap="round" stroke-linejoin="round">
<path d="M-1.1 32.2C0.2 31.0 3.7 27.6 6.3 25.4C9.0 23.2 12.0 21.2 14.8 19.0C17.6 16.9 20.4 14.3 23.3 12.7C26.1 11.1 29.4 9.5 31.7 9.5C34.0 9.5 36.0 10.8 37.0 12.7C38.1 14.6 37.5 18.3 38.1 21.2C38.6 24.0 39.5 26.8 40.2 29.6C40.9 32.4 42.1 35.3 42.3 38.1C42.5 40.9 42.1 43.9 41.2 46.5C40.4 49.2 39.0 51.8 37.0 53.9C35.1 56.1 32.3 58.2 29.6 59.2C27.0 60.3 24.0 60.6 21.2 60.3C18.3 59.9 15.2 58.3 12.7 57.1C10.2 55.9 8.1 54.4 6.3 52.9C4.6 51.4 2.8 49.0 2.1 48.2" stroke="#9a8dcf" stroke-width="5.152"/>
<path d="M-1.1 31.7C-0.4 33.5 2.1 38.8 3.2 42.3C4.2 45.8 5.1 49.4 5.3 52.9C5.5 56.4 5.3 60.5 4.2 63.5C3.2 66.5 -0.2 69.6 -1.1 70.9" stroke="#9a8dcf" stroke-width="5.152"/>
<path d="M42.3 32.2C43.4 31.7 46.5 30.6 48.7 29.6C50.8 28.7 52.9 27.5 55.0 26.4C57.1 25.4 59.2 24.2 61.3 23.3C63.5 22.4 66.6 21.5 67.7 21.2" stroke="#9a8dcf" stroke-width="5.152"/>
<path d="M50.8 -1.1C51.1 0.5 51.8 5.8 52.9 8.5C53.9 11.1 55.4 13.1 57.1 14.8C58.9 16.5 61.3 17.2 63.5 18.6C65.6 20.0 67.3 22.0 69.8 23.3C72.3 24.6 75.4 25.6 78.3 26.4C81.1 27.3 83.9 28.4 86.7 28.6C89.6 28.7 92.4 28.2 95.2 27.5C98.0 26.8 101.4 25.3 103.7 24.3C105.9 23.4 108.1 22.2 108.9 21.8" stroke="#9a8dcf" stroke-width="5.152"/>
<path d="M44.4 40.2C45.1 41.6 47.4 45.8 48.7 48.7C49.9 51.5 50.8 54.3 51.8 57.1C52.9 59.9 53.8 63.1 55.0 65.6C56.2 68.0 57.8 71.2 59.2 71.9C60.6 72.6 62.1 71.2 63.5 69.8C64.9 68.4 66.3 65.9 67.7 63.5C69.1 61.0 70.7 57.8 71.9 55.0C73.2 52.2 74.7 49.4 75.1 46.5C75.4 43.7 74.6 40.5 74.0 38.1C73.5 35.6 72.9 34.3 71.9 31.7C70.9 29.2 68.8 24.3 68.1 22.8" stroke="#9a8dcf" stroke-width="4.928000000000001"/>
<path d="M81.4 -1.1C81.4 0.9 80.9 6.9 81.4 10.6C82.0 14.3 83.4 18.0 84.6 21.2C85.8 24.3 88.3 26.8 88.8 29.6C89.4 32.4 88.5 35.3 87.8 38.1C87.1 40.9 85.7 43.7 84.6 46.5C83.6 49.4 82.3 52.2 81.4 55.0C80.6 57.8 79.5 60.6 79.3 63.5C79.2 66.3 79.5 69.8 80.4 71.9C81.3 74.0 82.5 75.6 84.6 76.2C86.7 76.7 90.6 75.6 93.1 75.1C95.5 74.6 96.8 73.2 99.4 73.0C102.1 72.8 107.4 73.9 108.9 74.0" stroke="#9a8dcf" stroke-width="4.928000000000001"/>
<path d="M61.3 -1.1C62.4 0.5 65.2 6.2 67.7 8.5C70.2 10.8 73.3 11.6 76.2 12.7C79.0 13.8 83.2 14.5 84.6 14.8" stroke="#9a8dcf" stroke-width="4.704000000000001"/>
<path d="M88.8 -1.1C89.9 0.5 93.1 5.8 95.2 8.5C97.3 11.1 99.2 13.3 101.5 14.8C103.8 16.3 107.7 16.9 108.9 17.3" stroke="#9a8dcf" stroke-width="4.704000000000001"/>
<path d="M12.7 -1.1C12.0 -0.2 10.2 2.8 8.5 4.2C6.7 5.6 3.7 6.8 2.1 7.4C0.5 8.0 -0.5 7.9 -1.1 8.0" stroke="#9a8dcf" stroke-width="4.48"/>
<path d="M-1.1 32.2C0.2 31.0 3.7 27.6 6.3 25.4C9.0 23.2 12.0 21.2 14.8 19.0C17.6 16.9 20.4 14.3 23.3 12.7C26.1 11.1 29.4 9.5 31.7 9.5C34.0 9.5 36.0 10.8 37.0 12.7C38.1 14.6 37.5 18.3 38.1 21.2C38.6 24.0 39.5 26.8 40.2 29.6C40.9 32.4 42.1 35.3 42.3 38.1C42.5 40.9 42.1 43.9 41.2 46.5C40.4 49.2 39.0 51.8 37.0 53.9C35.1 56.1 32.3 58.2 29.6 59.2C27.0 60.3 24.0 60.6 21.2 60.3C18.3 59.9 15.2 58.3 12.7 57.1C10.2 55.9 8.1 54.4 6.3 52.9C4.6 51.4 2.8 49.0 2.1 48.2" stroke="#d1c6e9" stroke-width="2.7"/>
<path d="M-1.1 31.7C-0.4 33.5 2.1 38.8 3.2 42.3C4.2 45.8 5.1 49.4 5.3 52.9C5.5 56.4 5.3 60.5 4.2 63.5C3.2 66.5 -0.2 69.6 -1.1 70.9" stroke="#d1c6e9" stroke-width="2.7"/>
<path d="M42.3 32.2C43.4 31.7 46.5 30.6 48.7 29.6C50.8 28.7 52.9 27.5 55.0 26.4C57.1 25.4 59.2 24.2 61.3 23.3C63.5 22.4 66.6 21.5 67.7 21.2" stroke="#d1c6e9" stroke-width="2.7"/>
<path d="M50.8 -1.1C51.1 0.5 51.8 5.8 52.9 8.5C53.9 11.1 55.4 13.1 57.1 14.8C58.9 16.5 61.3 17.2 63.5 18.6C65.6 20.0 67.3 22.0 69.8 23.3C72.3 24.6 75.4 25.6 78.3 26.4C81.1 27.3 83.9 28.4 86.7 28.6C89.6 28.7 92.4 28.2 95.2 27.5C98.0 26.8 101.4 25.3 103.7 24.3C105.9 23.4 108.1 22.2 108.9 21.8" stroke="#d1c6e9" stroke-width="2.7"/>
<path d="M44.4 40.2C45.1 41.6 47.4 45.8 48.7 48.7C49.9 51.5 50.8 54.3 51.8 57.1C52.9 59.9 53.8 63.1 55.0 65.6C56.2 68.0 57.8 71.2 59.2 71.9C60.6 72.6 62.1 71.2 63.5 69.8C64.9 68.4 66.3 65.9 67.7 63.5C69.1 61.0 70.7 57.8 71.9 55.0C73.2 52.2 74.7 49.4 75.1 46.5C75.4 43.7 74.6 40.5 74.0 38.1C73.5 35.6 72.9 34.3 71.9 31.7C70.9 29.2 68.8 24.3 68.1 22.8" stroke="#d1c6e9" stroke-width="2.4"/>
<path d="M81.4 -1.1C81.4 0.9 80.9 6.9 81.4 10.6C82.0 14.3 83.4 18.0 84.6 21.2C85.8 24.3 88.3 26.8 88.8 29.6C89.4 32.4 88.5 35.3 87.8 38.1C87.1 40.9 85.7 43.7 84.6 46.5C83.6 49.4 82.3 52.2 81.4 55.0C80.6 57.8 79.5 60.6 79.3 63.5C79.2 66.3 79.5 69.8 80.4 71.9C81.3 74.0 82.5 75.6 84.6 76.2C86.7 76.7 90.6 75.6 93.1 75.1C95.5 74.6 96.8 73.2 99.4 73.0C102.1 72.8 107.4 73.9 108.9 74.0" stroke="#d1c6e9" stroke-width="2.4"/>
<path d="M61.3 -1.1C62.4 0.5 65.2 6.2 67.7 8.5C70.2 10.8 73.3 11.6 76.2 12.7C79.0 13.8 83.2 14.5 84.6 14.8" stroke="#d1c6e9" stroke-width="2.2"/>
<path d="M88.8 -1.1C89.9 0.5 93.1 5.8 95.2 8.5C97.3 11.1 99.2 13.3 101.5 14.8C103.8 16.3 107.7 16.9 108.9 17.3" stroke="#d1c6e9" stroke-width="2.2"/>
<path d="M12.7 -1.1C12.0 -0.2 10.2 2.8 8.5 4.2C6.7 5.6 3.7 6.8 2.1 7.4C0.5 8.0 -0.5 7.9 -1.1 8.0" stroke="#d1c6e9" stroke-width="2.0"/>
</g>
<g filter="url(#blurB)">
<path d="M-1.1 52.9C-0.6 53.5 0.8 54.8 1.7 56.7C2.6 58.6 3.4 61.8 4.2 64.5C5.1 67.2 5.9 69.8 6.8 73.0C7.7 76.2 10.8 81.8 9.5 83.6C8.2 85.3 0.7 83.6 -1.1 83.6Z" fill="#7565bd"/>
<path d="M91.0 83.6C91.2 82.6 91.2 79.3 92.2 77.8C93.2 76.4 95.1 75.6 96.9 74.9C98.7 74.2 101.2 74.0 103.2 73.6C105.2 73.2 108.0 70.7 108.9 72.3C109.9 74.0 108.9 81.7 108.9 83.6Z" fill="#4a3b9c"/>
<path transform="translate(14.8 20.1) rotate(-37)" d="M-3.8 0C-2.1 -2.00 2.1 -2.00 3.8 0C2.1 2.00 -2.1 2.00 -3.8 0Z" fill="#473a98"/>
<path transform="translate(37.0 13.1) rotate(83)" d="M-3.4 0C-1.8 -2.00 1.8 -2.00 3.4 0C1.8 2.00 -1.8 2.00 -3.4 0Z" fill="#473a98"/>
<path transform="translate(5.3 50.8) rotate(79)" d="M-3.6 0C-2.0 -2.00 2.0 -2.00 3.6 0C2.0 2.00 -2.0 2.00 -3.6 0Z" fill="#473a98"/>
<path transform="translate(55.0 15.9) rotate(56)" d="M-3.6 0C-2.0 -2.00 2.0 -2.00 3.6 0C2.0 2.00 -2.0 2.00 -3.6 0Z" fill="#473a98"/>
<path transform="translate(63.5 19.0) rotate(36)" d="M-3.4 0C-1.8 -2.00 1.8 -2.00 3.4 0C1.8 2.00 -1.8 2.00 -3.4 0Z" fill="#473a98"/>
<path transform="translate(52.9 57.1) rotate(69)" d="M-3.8 0C-2.1 -2.00 2.1 -2.00 3.8 0C2.1 2.00 -2.1 2.00 -3.8 0Z" fill="#473a98"/>
<path transform="translate(68.8 67.3) rotate(-56)" d="M-3.6 0C-2.0 -2.00 2.0 -2.00 3.6 0C2.0 2.00 -2.0 2.00 -3.6 0Z" fill="#473a98"/>
<path transform="translate(74.5 39.1) rotate(-97)" d="M-3.6 0C-2.0 -2.00 2.0 -2.00 3.6 0C2.0 2.00 -2.0 2.00 -3.6 0Z" fill="#473a98"/>
<path transform="translate(81.4 6.3) rotate(90)" d="M-3.6 0C-2.0 -2.00 2.0 -2.00 3.6 0C2.0 2.00 -2.0 2.00 -3.6 0Z" fill="#473a98"/>
<path transform="translate(88.8 33.8) rotate(97)" d="M-3.6 0C-2.0 -2.00 2.0 -2.00 3.6 0C2.0 2.00 -2.0 2.00 -3.6 0Z" fill="#473a98"/>
<path transform="translate(85.7 44.4) rotate(111)" d="M-3.4 0C-1.8 -2.00 1.8 -2.00 3.4 0C1.8 2.00 -1.8 2.00 -3.4 0Z" fill="#473a98"/>
<path transform="translate(105.8 25.4) rotate(-26)" d="M-3.4 0C-1.8 -2.00 1.8 -2.00 3.4 0C1.8 2.00 -1.8 2.00 -3.4 0Z" fill="#473a98"/>
<path transform="translate(4.2 38.1) rotate(68)" d="M-3.4 0C-1.8 -2.00 1.8 -2.00 3.4 0C1.8 2.00 -1.8 2.00 -3.4 0Z" fill="#473a98"/>
<path transform="translate(3.0 63.5) rotate(126)" d="M-4.2 0C-2.3 -2.00 2.3 -2.00 4.2 0C2.3 2.00 -2.3 2.00 -4.2 0Z" fill="#473a98"/>
<path transform="translate(5.5 73.0) rotate(126)" d="M-4.2 0C-2.3 -2.00 2.3 -2.00 4.2 0C2.3 2.00 -2.3 2.00 -4.2 0Z" fill="#473a98"/>
<path transform="translate(2.1 74.0) rotate(126)" d="M-4.2 0C-2.3 -2.00 2.3 -2.00 4.2 0C2.3 2.00 -2.3 2.00 -4.2 0Z" fill="#473a98"/>
<path transform="translate(8.0 80.8) rotate(126)" d="M-3.6 0C-2.0 -2.00 2.0 -2.00 3.6 0C2.0 2.00 -2.0 2.00 -3.6 0Z" fill="#473a98"/>
<path transform="translate(3.8 81.4) rotate(126)" d="M-4.0 0C-2.2 -2.00 2.2 -2.00 4.0 0C2.2 2.00 -2.2 2.00 -4.0 0Z" fill="#473a98"/>
<path transform="translate(1.3 56.7) rotate(96)" d="M-3.4 0C-1.8 -2.00 1.8 -2.00 3.4 0C1.8 2.00 -1.8 2.00 -3.4 0Z" fill="#473a98"/>
<path transform="translate(92.0 75.1) rotate(-7)" d="M-3.1 0C-1.7 -2.00 1.7 -2.00 3.1 0C1.7 2.00 -1.7 2.00 -3.1 0Z" fill="#473a98"/>
<path transform="translate(65.6 6.3) rotate(56)" d="M-3.1 0C-1.7 -2.00 1.7 -2.00 3.1 0C1.7 2.00 -1.7 2.00 -3.1 0Z" fill="#473a98"/>
<path transform="translate(96.2 9.5) rotate(45)" d="M-3.1 0C-1.7 -2.00 1.7 -2.00 3.1 0C1.7 2.00 -1.7 2.00 -3.1 0Z" fill="#473a98"/>
<path transform="translate(41.7 45.5) rotate(97)" d="M-4.0 0C-2.2 -2.00 2.2 -2.00 4.0 0C2.2 2.00 -2.2 2.00 -4.0 0Z" fill="#8478c4"/>
</g>
<path d="M20.1 48.2L24.3 53.3" stroke="#111" stroke-width="2.5" fill="none"/>
<path transform="translate(27.1 56.7) rotate(50)" d="M0.4 0L-6.2 -3.8L-4.8 0L-6.2 3.8Z" fill="#111"/>
</g></g>
<g transform="translate(296.5 220.1)">
<clipPath id="cpdN"><rect width="109.15" height="82.6"/></clipPath>
<linearGradient id="bgdN" x1="0" y1="0" x2="1" y2="0.3"><stop offset="0" stop-color="#d0d1e3"/><stop offset="1" stop-color="#d6d7e7"/></linearGradient>
<g clip-path="url(#cpdN)">
<rect x="-2" y="-2" width="113.15" height="86.6" fill="url(#bgdN)"/>
<g filter="url(#blurA)" fill="none" stroke-linecap="round" stroke-linejoin="round">
<path d="M-1.9 7.4C-1.6 8.1 -0.8 9.9 0.2 11.6C1.3 13.4 3.2 15.5 4.4 18.0C5.7 20.4 7.4 23.3 7.6 26.4C7.8 29.6 6.4 33.8 5.5 37.0C4.6 40.2 3.2 42.7 2.3 45.5C1.4 48.3 0.4 50.8 0.2 53.9C0.0 57.1 0.7 61.7 1.3 64.5C1.8 67.3 3.4 68.8 3.4 70.9C3.4 73.0 1.6 76.2 1.3 77.2" stroke="#9f86c6" stroke-width="5.76"/>
<path d="M-1.9 9.1C-0.3 9.5 4.6 11.0 7.6 11.6C10.6 12.2 13.6 12.3 16.1 12.7C18.5 13.1 21.4 13.9 22.4 14.2" stroke="#9f86c6" stroke-width="5.28"/>
<path d="M25.0 -2.1C24.7 -0.5 24.1 4.5 23.5 7.4C22.9 10.3 21.7 14.1 21.4 15.4" stroke="#9f86c6" stroke-width="5.28"/>
<path d="M21.4 15.9C21.2 17.3 20.1 21.2 20.3 24.3C20.5 27.5 21.4 31.7 22.4 34.9C23.5 38.1 24.9 40.5 26.7 43.4C28.4 46.2 30.9 49.4 33.0 51.8C35.1 54.3 37.4 56.6 39.3 58.2C41.3 59.8 43.8 60.8 44.6 61.3" stroke="#9f86c6" stroke-width="5.52"/>
<path d="M21.4 15.9C22.6 16.2 26.5 16.6 28.8 18.0C31.1 19.4 33.4 21.9 35.1 24.3C36.9 26.8 38.1 30.0 39.3 32.8C40.6 35.6 41.8 38.4 42.5 41.2C43.2 44.1 43.2 46.5 43.6 49.7C43.9 53.0 44.5 58.9 44.6 60.7" stroke="#9f86c6" stroke-width="5.52"/>
<path d="M44.6 61.3C43.9 62.6 41.8 66.5 40.4 68.8C39.0 71.0 37.8 73.2 36.2 75.1C34.6 77.0 32.1 79.0 30.9 80.4C29.7 81.8 29.1 83.0 28.8 83.6" stroke="#9f86c6" stroke-width="5.52"/>
<path d="M-1.9 71.9C-0.3 72.1 4.3 72.5 7.6 73.0C11.0 73.5 15.0 74.2 18.2 75.1C21.4 76.0 24.5 77.3 26.7 78.3C28.8 79.3 30.5 80.6 31.3 81.0" stroke="#9f86c6" stroke-width="5.52"/>
<path d="M44.6 61.3C45.9 61.9 49.4 63.1 52.0 64.5C54.7 65.9 58.0 68.0 60.5 69.8C63.0 71.6 65.0 72.8 66.8 75.1C68.7 77.4 70.7 82.1 71.5 83.6" stroke="#9f86c6" stroke-width="5.52"/>
<path d="M44.6 62.4C44.6 63.8 44.2 67.3 44.6 70.9C45.0 74.4 46.6 81.4 47.0 83.6" stroke="#9f86c6" stroke-width="5.04"/>
<path d="M42.5 -2.1C43.8 -0.9 46.9 3.3 49.9 5.3C52.9 7.2 57.3 9.0 60.5 9.5C63.7 10.0 66.8 9.5 69.0 8.5C71.1 7.4 72.8 4.9 73.2 3.2C73.5 1.4 71.4 -1.2 71.1 -2.1" stroke="#9f86c6" stroke-width="5.76"/>
<path d="M72.1 -2.1C73.0 -0.2 75.7 5.8 77.4 9.5C79.2 13.2 81.3 16.6 82.7 20.1C84.1 23.6 85.7 27.5 85.9 30.7C86.1 33.8 84.8 36.7 83.8 39.1C82.7 41.6 81.3 43.5 79.5 45.5C77.8 47.4 75.1 49.0 73.2 50.8C71.3 52.5 68.6 53.8 67.9 56.1C67.2 58.3 68.3 61.7 69.0 64.5C69.7 67.3 71.4 69.8 72.1 73.0C72.8 76.2 73.0 81.8 73.2 83.6" stroke="#9f86c6" stroke-width="6.0"/>
<path d="M110.2 -0.6C108.6 1.1 103.3 6.4 100.7 9.5C98.0 12.6 96.5 15.2 94.3 18.0C92.2 20.8 89.6 24.0 88.0 26.4C86.4 28.9 85.4 31.7 84.8 32.8" stroke="#9f86c6" stroke-width="5.76"/>
<path d="M90.1 -2.1C90.5 -0.5 91.2 4.1 92.2 7.4C93.3 10.8 95.2 14.5 96.5 18.0C97.7 21.5 98.9 25.0 99.6 28.6C100.3 32.1 100.0 36.0 100.7 39.1C101.4 42.3 102.3 45.1 103.9 47.6C105.5 50.1 109.2 53.2 110.2 54.4" stroke="#9f86c6" stroke-width="5.76"/>
<path d="M83.8 41.2C84.1 42.7 85.7 46.9 85.9 49.7C86.1 52.5 85.4 55.7 84.8 58.2C84.3 60.6 83.9 62.4 82.7 64.5C81.5 66.6 79.0 68.7 77.4 70.9C75.8 73.1 73.9 76.5 73.2 77.6" stroke="#9f86c6" stroke-width="5.52"/>
<path d="M82.7 64.5C83.6 65.2 86.1 67.2 88.0 68.8C89.9 70.3 92.2 72.3 94.3 74.0C96.5 75.8 98.0 77.8 100.7 79.3C103.3 80.8 108.6 82.5 110.2 83.1" stroke="#9f86c6" stroke-width="5.52"/>
<path d="M-1.9 7.4C-1.6 8.1 -0.8 9.9 0.2 11.6C1.3 13.4 3.2 15.5 4.4 18.0C5.7 20.4 7.4 23.3 7.6 26.4C7.8 29.6 6.4 33.8 5.5 37.0C4.6 40.2 3.2 42.7 2.3 45.5C1.4 48.3 0.4 50.8 0.2 53.9C0.0 57.1 0.7 61.7 1.3 64.5C1.8 67.3 3.4 68.8 3.4 70.9C3.4 73.0 1.6 76.2 1.3 77.2" stroke="#d1b9de" stroke-width="3.3"/>
<path d="M-1.9 9.1C-0.3 9.5 4.6 11.0 7.6 11.6C10.6 12.2 13.6 12.3 16.1 12.7C18.5 13.1 21.4 13.9 22.4 14.2" stroke="#d1b9de" stroke-width="2.8"/>
<path d="M25.0 -2.1C24.7 -0.5 24.1 4.5 23.5 7.4C22.9 10.3 21.7 14.1 21.4 15.4" stroke="#d1b9de" stroke-width="2.8"/>
<path d="M21.4 15.9C21.2 17.3 20.1 21.2 20.3 24.3C20.5 27.5 21.4 31.7 22.4 34.9C23.5 38.1 24.9 40.5 26.7 43.4C28.4 46.2 30.9 49.4 33.0 51.8C35.1 54.3 37.4 56.6 39.3 58.2C41.3 59.8 43.8 60.8 44.6 61.3" stroke="#d1b9de" stroke-width="3.0"/>
<path d="M21.4 15.9C22.6 16.2 26.5 16.6 28.8 18.0C31.1 19.4 33.4 21.9 35.1 24.3C36.9 26.8 38.1 30.0 39.3 32.8C40.6 35.6 41.8 38.4 42.5 41.2C43.2 44.1 43.2 46.5 43.6 49.7C43.9 53.0 44.5 58.9 44.6 60.7" stroke="#d1b9de" stroke-width="3.0"/>
<path d="M44.6 61.3C43.9 62.6 41.8 66.5 40.4 68.8C39.0 71.0 37.8 73.2 36.2 75.1C34.6 77.0 32.1 79.0 30.9 80.4C29.7 81.8 29.1 83.0 28.8 83.6" stroke="#d1b9de" stroke-width="3.0"/>
<path d="M-1.9 71.9C-0.3 72.1 4.3 72.5 7.6 73.0C11.0 73.5 15.0 74.2 18.2 75.1C21.4 76.0 24.5 77.3 26.7 78.3C28.8 79.3 30.5 80.6 31.3 81.0" stroke="#d1b9de" stroke-width="3.0"/>
<path d="M44.6 61.3C45.9 61.9 49.4 63.1 52.0 64.5C54.7 65.9 58.0 68.0 60.5 69.8C63.0 71.6 65.0 72.8 66.8 75.1C68.7 77.4 70.7 82.1 71.5 83.6" stroke="#d1b9de" stroke-width="3.0"/>
<path d="M44.6 62.4C44.6 63.8 44.2 67.3 44.6 70.9C45.0 74.4 46.6 81.4 47.0 83.6" stroke="#d1b9de" stroke-width="2.5"/>
<path d="M42.5 -2.1C43.8 -0.9 46.9 3.3 49.9 5.3C52.9 7.2 57.3 9.0 60.5 9.5C63.7 10.0 66.8 9.5 69.0 8.5C71.1 7.4 72.8 4.9 73.2 3.2C73.5 1.4 71.4 -1.2 71.1 -2.1" stroke="#d1b9de" stroke-width="3.3"/>
<path d="M72.1 -2.1C73.0 -0.2 75.7 5.8 77.4 9.5C79.2 13.2 81.3 16.6 82.7 20.1C84.1 23.6 85.7 27.5 85.9 30.7C86.1 33.8 84.8 36.7 83.8 39.1C82.7 41.6 81.3 43.5 79.5 45.5C77.8 47.4 75.1 49.0 73.2 50.8C71.3 52.5 68.6 53.8 67.9 56.1C67.2 58.3 68.3 61.7 69.0 64.5C69.7 67.3 71.4 69.8 72.1 73.0C72.8 76.2 73.0 81.8 73.2 83.6" stroke="#d1b9de" stroke-width="3.5"/>
<path d="M110.2 -0.6C108.6 1.1 103.3 6.4 100.7 9.5C98.0 12.6 96.5 15.2 94.3 18.0C92.2 20.8 89.6 24.0 88.0 26.4C86.4 28.9 85.4 31.7 84.8 32.8" stroke="#d1b9de" stroke-width="3.3"/>
<path d="M90.1 -2.1C90.5 -0.5 91.2 4.1 92.2 7.4C93.3 10.8 95.2 14.5 96.5 18.0C97.7 21.5 98.9 25.0 99.6 28.6C100.3 32.1 100.0 36.0 100.7 39.1C101.4 42.3 102.3 45.1 103.9 47.6C105.5 50.1 109.2 53.2 110.2 54.4" stroke="#d1b9de" stroke-width="3.3"/>
<path d="M83.8 41.2C84.1 42.7 85.7 46.9 85.9 49.7C86.1 52.5 85.4 55.7 84.8 58.2C84.3 60.6 83.9 62.4 82.7 64.5C81.5 66.6 79.0 68.7 77.4 70.9C75.8 73.1 73.9 76.5 73.2 77.6" stroke="#d1b9de" stroke-width="3.0"/>
<path d="M82.7 64.5C83.6 65.2 86.1 67.2 88.0 68.8C89.9 70.3 92.2 72.3 94.3 74.0C96.5 75.8 98.0 77.8 100.7 79.3C103.3 80.8 108.6 82.5 110.2 83.1" stroke="#d1b9de" stroke-width="3.0"/>
</g>
<g filter="url(#blurB)">
<path transform="translate(8.5 19.8) rotate(69)" d="M-4.2 0C-2.3 -2.19 2.3 -2.19 4.2 0C2.3 2.19 -2.3 2.19 -4.2 0Z" fill="#2c1d84"/>
<path transform="translate(6.7 30.5) rotate(101)" d="M-4.0 0C-2.2 -2.19 2.2 -2.19 4.0 0C2.2 2.19 -2.2 2.19 -4.0 0Z" fill="#2c1d84"/>
<path transform="translate(0.4 44.1) rotate(111)" d="M-4.0 0C-2.2 -2.19 2.2 -2.19 4.0 0C2.2 2.19 -2.2 2.19 -4.0 0Z" fill="#2c1d84"/>
<path transform="translate(2.5 67.4) rotate(72)" d="M-4.0 0C-2.2 -2.19 2.2 -2.19 4.0 0C2.2 2.19 -2.2 2.19 -4.0 0Z" fill="#2c1d84"/>
<path transform="translate(23.6 5.2) rotate(99)" d="M-4.0 0C-2.2 -2.19 2.2 -2.19 4.0 0C2.2 2.19 -2.2 2.19 -4.0 0Z" fill="#2c1d84"/>
<path transform="translate(20.5 17.4) rotate(97)" d="M-4.0 0C-2.2 -2.19 2.2 -2.19 4.0 0C2.2 2.19 -2.2 2.19 -4.0 0Z" fill="#2c1d84"/>
<path transform="translate(28.0 15.4) rotate(16)" d="M-3.7 0C-2.0 -2.19 2.0 -2.19 3.7 0C2.0 2.19 -2.0 2.19 -3.7 0Z" fill="#2c1d84"/>
<path transform="translate(40.6 37.3) rotate(69)" d="M-4.2 0C-2.3 -2.19 2.3 -2.19 4.2 0C2.3 2.19 -2.3 2.19 -4.2 0Z" fill="#2c1d84"/>
<path transform="translate(42.0 44.5) rotate(83)" d="M-4.0 0C-2.2 -2.19 2.2 -2.19 4.0 0C2.2 2.19 -2.2 2.19 -4.0 0Z" fill="#2c1d84"/>
<path transform="translate(29.5 43.9) rotate(53)" d="M-4.0 0C-2.2 -2.19 2.2 -2.19 4.0 0C2.2 2.19 -2.2 2.19 -4.0 0Z" fill="#2c1d84"/>
<path transform="translate(43.9 61.1) rotate(120)" d="M-3.7 0C-2.0 -2.19 2.0 -2.19 3.7 0C2.0 2.19 -2.0 2.19 -3.7 0Z" fill="#2c1d84"/>
<path transform="translate(36.9 66.2) rotate(120)" d="M-4.0 0C-2.2 -2.19 2.2 -2.19 4.0 0C2.2 2.19 -2.2 2.19 -4.0 0Z" fill="#2c1d84"/>
<path transform="translate(31.5 79.5) rotate(135)" d="M-4.4 0C-2.4 -2.19 2.4 -2.19 4.4 0C2.4 2.19 -2.4 2.19 -4.4 0Z" fill="#2c1d84"/>
<path transform="translate(1.5 70.1) rotate(72)" d="M-3.7 0C-2.0 -2.19 2.0 -2.19 3.7 0C2.0 2.19 -2.0 2.19 -3.7 0Z" fill="#2c1d84"/>
<path transform="translate(43.7 73.1) rotate(80)" d="M-3.7 0C-2.0 -2.19 2.0 -2.19 3.7 0C2.0 2.19 -2.0 2.19 -3.7 0Z" fill="#2c1d84"/>
<path transform="translate(61.4 8.6) rotate(-7)" d="M-4.7 0C-2.6 -2.19 2.6 -2.19 4.7 0C2.6 2.19 -2.6 2.19 -4.7 0Z" fill="#2c1d84"/>
<path transform="translate(69.7 7.1) rotate(-51)" d="M-3.7 0C-2.0 -2.19 2.0 -2.19 3.7 0C2.0 2.19 -2.0 2.19 -3.7 0Z" fill="#2c1d84"/>
<path transform="translate(84.7 31.3) rotate(117)" d="M-4.4 0C-2.4 -2.19 2.4 -2.19 4.4 0C2.4 2.19 -2.4 2.19 -4.4 0Z" fill="#2c1d84"/>
<path transform="translate(83.7 41.7) rotate(124)" d="M-4.0 0C-2.2 -2.19 2.2 -2.19 4.0 0C2.2 2.19 -2.2 2.19 -4.0 0Z" fill="#2c1d84"/>
<path transform="translate(68.3 54.4) rotate(135)" d="M-4.0 0C-2.2 -2.19 2.2 -2.19 4.0 0C2.2 2.19 -2.2 2.19 -4.0 0Z" fill="#2c1d84"/>
<path transform="translate(69.2 69.1) rotate(69)" d="M-4.0 0C-2.2 -2.19 2.2 -2.19 4.0 0C2.2 2.19 -2.2 2.19 -4.0 0Z" fill="#2c1d84"/>
<path transform="translate(99.3 12.2) rotate(127)" d="M-4.0 0C-2.2 -2.19 2.2 -2.19 4.0 0C2.2 2.19 -2.2 2.19 -4.0 0Z" fill="#2c1d84"/>
<path transform="translate(91.8 14.5) rotate(68)" d="M-4.0 0C-2.2 -2.19 2.2 -2.19 4.0 0C2.2 2.19 -2.2 2.19 -4.0 0Z" fill="#2c1d84"/>
<path transform="translate(91.4 7.6) rotate(77)" d="M-3.5 0C-1.9 -2.19 1.9 -2.19 3.5 0C1.9 2.19 -1.9 2.19 -3.5 0Z" fill="#2c1d84"/>
<path transform="translate(99.4 28.3) rotate(73)" d="M-4.0 0C-2.2 -2.19 2.2 -2.19 4.0 0C2.2 2.19 -2.2 2.19 -4.0 0Z" fill="#2c1d84"/>
<path transform="translate(103.6 50.3) rotate(47)" d="M-4.4 0C-2.4 -2.19 2.4 -2.19 4.4 0C2.4 2.19 -2.4 2.19 -4.4 0Z" fill="#2c1d84"/>
<path transform="translate(84.0 46.1) rotate(76)" d="M-3.5 0C-1.9 -2.19 1.9 -2.19 3.5 0C1.9 2.19 -1.9 2.19 -3.5 0Z" fill="#2c1d84"/>
<path transform="translate(84.6 61.6) rotate(108)" d="M-4.0 0C-2.2 -2.19 2.2 -2.19 4.0 0C2.2 2.19 -2.2 2.19 -4.0 0Z" fill="#2c1d84"/>
<path transform="translate(93.8 74.7) rotate(40)" d="M-4.2 0C-2.3 -2.19 2.3 -2.19 4.2 0C2.3 2.19 -2.3 2.19 -4.2 0Z" fill="#2c1d84"/>
<path transform="translate(71.2 79.4) rotate(84)" d="M-3.7 0C-2.0 -2.19 2.0 -2.19 3.7 0C2.0 2.19 -2.0 2.19 -3.7 0Z" fill="#2c1d84"/>
</g>
</g></g>
<g transform="translate(409.4 220.1)">
<clipPath id="cpdT1"><rect width="109.1" height="82.6"/></clipPath>
<linearGradient id="bgdT1" x1="0" y1="0" x2="1" y2="0.3"><stop offset="0" stop-color="#d1d2e4"/><stop offset="1" stop-color="#d7d8e8"/></linearGradient>
<g clip-path="url(#cpdT1)">
<rect x="-2" y="-2" width="113.1" height="86.6" fill="url(#bgdT1)"/>
<g filter="url(#blurA)" fill="none" stroke-linecap="round" stroke-linejoin="round">
<path d="M-1.5 5.3C0.1 5.8 4.7 7.9 8.0 8.5C11.4 9.0 15.4 8.8 18.6 8.5C21.8 8.1 24.5 7.3 27.1 6.3C29.6 5.4 32.7 3.3 33.8 2.8" stroke="#9f86c6" stroke-width="5.76"/>
<path d="M31.3 -2.1C32.0 -0.9 34.3 2.6 35.5 5.3C36.8 7.9 38.0 11.2 38.7 13.8C39.4 16.3 39.6 19.4 39.8 20.5" stroke="#9f86c6" stroke-width="5.76"/>
<path d="M-1.5 20.1C0.1 19.4 4.7 16.9 8.0 15.9C11.4 14.8 15.4 13.6 18.6 13.8C21.8 13.9 24.3 15.5 27.1 16.9C29.9 18.3 32.7 20.8 35.5 22.2C38.4 23.6 41.2 25.4 44.0 25.4C46.8 25.4 49.6 23.4 52.5 22.2C55.3 21.0 58.1 19.2 60.9 18.0C63.7 16.7 66.6 16.0 69.4 14.8C72.2 13.6 75.4 12.2 77.8 10.6C80.3 9.0 82.0 7.2 84.2 5.3C86.4 3.3 89.8 0.0 91.0 -1.1" stroke="#9f86c6" stroke-width="7.4399999999999995"/>
<path d="M46.1 26.4C44.9 26.6 40.8 26.8 38.7 27.5C36.6 28.2 35.0 28.7 33.4 30.7C31.8 32.6 30.1 36.3 29.2 39.1C28.3 42.0 27.8 44.8 28.1 47.6C28.5 50.4 29.7 53.6 31.3 56.1C32.9 58.5 35.2 60.8 37.7 62.4C40.1 64.0 43.3 65.9 46.1 65.6C48.9 65.2 52.3 62.2 54.6 60.3C56.9 58.3 59.2 56.4 59.9 53.9C60.6 51.5 59.5 48.3 58.8 45.5C58.1 42.7 56.7 39.5 55.6 37.0C54.6 34.6 54.0 32.4 52.5 30.7C50.9 28.9 47.2 27.1 46.1 26.4" stroke="#9f86c6" stroke-width="5.76"/>
<path d="M-1.5 32.8C0.1 32.8 5.3 33.0 8.0 32.8C10.8 32.6 13.7 31.7 14.8 31.5" stroke="#9f86c6" stroke-width="5.52"/>
<path d="M-1.5 43.8C-0.2 43.4 3.6 42.2 5.9 41.2C8.3 40.3 11.6 38.4 12.7 37.9" stroke="#9f86c6" stroke-width="5.52"/>
<path d="M59.9 53.9C60.4 55.4 62.3 59.6 63.0 62.4C63.7 65.2 64.1 67.3 64.1 70.9C64.1 74.4 63.2 81.4 63.0 83.6" stroke="#9f86c6" stroke-width="5.76"/>
<path d="M60.9 22.2C61.3 22.9 61.3 25.0 63.0 26.4C64.8 27.9 68.3 29.4 71.5 30.7C74.7 31.9 78.6 33.3 82.1 33.8C85.6 34.4 89.5 34.4 92.7 33.8C95.8 33.3 99.0 32.3 101.1 30.7C103.2 29.1 105.3 26.6 105.3 24.3C105.3 22.0 103.2 19.0 101.1 16.9C99.0 14.8 95.5 12.9 92.7 11.6C89.8 10.4 86.7 9.6 84.2 9.5C81.7 9.4 78.9 10.9 77.8 11.2" stroke="#9f86c6" stroke-width="6.0"/>
<path d="M60.9 47.6C62.3 48.3 66.6 50.1 69.4 51.8C72.2 53.6 75.0 56.4 77.8 58.2C80.7 59.9 83.5 61.3 86.3 62.4C89.1 63.5 91.9 64.7 94.8 64.5C97.6 64.3 100.4 62.8 103.2 61.3C106.1 59.9 110.3 56.6 111.7 55.6" stroke="#9f86c6" stroke-width="5.76"/>
<path d="M90.5 62.4C90.9 63.8 91.2 68.4 92.7 70.9C94.1 73.3 96.4 75.1 99.0 77.2C101.6 79.3 106.9 82.5 108.5 83.6" stroke="#9f86c6" stroke-width="5.76"/>
<path d="M105.3 24.3L111.7 26.9" stroke="#9f86c6" stroke-width="5.52"/>
<path d="M92.7 -2.1C93.7 -1.2 96.9 1.9 99.0 3.2C101.1 4.4 103.2 5.1 105.3 5.3C107.5 5.5 110.6 4.4 111.7 4.2" stroke="#9f86c6" stroke-width="5.52"/>
<path d="M-1.5 5.3C0.1 5.8 4.7 7.9 8.0 8.5C11.4 9.0 15.4 8.8 18.6 8.5C21.8 8.1 24.5 7.3 27.1 6.3C29.6 5.4 32.7 3.3 33.8 2.8" stroke="#d1b9de" stroke-width="3.3"/>
<path d="M31.3 -2.1C32.0 -0.9 34.3 2.6 35.5 5.3C36.8 7.9 38.0 11.2 38.7 13.8C39.4 16.3 39.6 19.4 39.8 20.5" stroke="#d1b9de" stroke-width="3.3"/>
<path d="M-1.5 20.1C0.1 19.4 4.7 16.9 8.0 15.9C11.4 14.8 15.4 13.6 18.6 13.8C21.8 13.9 24.3 15.5 27.1 16.9C29.9 18.3 32.7 20.8 35.5 22.2C38.4 23.6 41.2 25.4 44.0 25.4C46.8 25.4 49.6 23.4 52.5 22.2C55.3 21.0 58.1 19.2 60.9 18.0C63.7 16.7 66.6 16.0 69.4 14.8C72.2 13.6 75.4 12.2 77.8 10.6C80.3 9.0 82.0 7.2 84.2 5.3C86.4 3.3 89.8 0.0 91.0 -1.1" stroke="#d1b9de" stroke-width="4.9"/>
<path d="M46.1 26.4C44.9 26.6 40.8 26.8 38.7 27.5C36.6 28.2 35.0 28.7 33.4 30.7C31.8 32.6 30.1 36.3 29.2 39.1C28.3 42.0 27.8 44.8 28.1 47.6C28.5 50.4 29.7 53.6 31.3 56.1C32.9 58.5 35.2 60.8 37.7 62.4C40.1 64.0 43.3 65.9 46.1 65.6C48.9 65.2 52.3 62.2 54.6 60.3C56.9 58.3 59.2 56.4 59.9 53.9C60.6 51.5 59.5 48.3 58.8 45.5C58.1 42.7 56.7 39.5 55.6 37.0C54.6 34.6 54.0 32.4 52.5 30.7C50.9 28.9 47.2 27.1 46.1 26.4" stroke="#d1b9de" stroke-width="3.3"/>
<path d="M-1.5 32.8C0.1 32.8 5.3 33.0 8.0 32.8C10.8 32.6 13.7 31.7 14.8 31.5" stroke="#d1b9de" stroke-width="3.0"/>
<path d="M-1.5 43.8C-0.2 43.4 3.6 42.2 5.9 41.2C8.3 40.3 11.6 38.4 12.7 37.9" stroke="#d1b9de" stroke-width="3.0"/>
<path d="M59.9 53.9C60.4 55.4 62.3 59.6 63.0 62.4C63.7 65.2 64.1 67.3 64.1 70.9C64.1 74.4 63.2 81.4 63.0 83.6" stroke="#d1b9de" stroke-width="3.3"/>
<path d="M60.9 22.2C61.3 22.9 61.3 25.0 63.0 26.4C64.8 27.9 68.3 29.4 71.5 30.7C74.7 31.9 78.6 33.3 82.1 33.8C85.6 34.4 89.5 34.4 92.7 33.8C95.8 33.3 99.0 32.3 101.1 30.7C103.2 29.1 105.3 26.6 105.3 24.3C105.3 22.0 103.2 19.0 101.1 16.9C99.0 14.8 95.5 12.9 92.7 11.6C89.8 10.4 86.7 9.6 84.2 9.5C81.7 9.4 78.9 10.9 77.8 11.2" stroke="#d1b9de" stroke-width="3.5"/>
<path d="M60.9 47.6C62.3 48.3 66.6 50.1 69.4 51.8C72.2 53.6 75.0 56.4 77.8 58.2C80.7 59.9 83.5 61.3 86.3 62.4C89.1 63.5 91.9 64.7 94.8 64.5C97.6 64.3 100.4 62.8 103.2 61.3C106.1 59.9 110.3 56.6 111.7 55.6" stroke="#d1b9de" stroke-width="3.3"/>
<path d="M90.5 62.4C90.9 63.8 91.2 68.4 92.7 70.9C94.1 73.3 96.4 75.1 99.0 77.2C101.6 79.3 106.9 82.5 108.5 83.6" stroke="#d1b9de" stroke-width="3.3"/>
<path d="M105.3 24.3L111.7 26.9" stroke="#d1b9de" stroke-width="3.0"/>
<path d="M92.7 -2.1C93.7 -1.2 96.9 1.9 99.0 3.2C101.1 4.4 103.2 5.1 105.3 5.3C107.5 5.5 110.6 4.4 111.7 4.2" stroke="#d1b9de" stroke-width="3.0"/>
</g>
<g filter="url(#blurB)">
<path transform="translate(7.3 9.1) rotate(18)" d="M-4.0 0C-2.2 -2.19 2.2 -2.19 4.0 0C2.2 2.19 -2.2 2.19 -4.0 0Z" fill="#2c1d84"/>
<path transform="translate(23.1 9.3) rotate(-14)" d="M-4.0 0C-2.2 -2.19 2.2 -2.19 4.0 0C2.2 2.19 -2.2 2.19 -4.0 0Z" fill="#2c1d84"/>
<path transform="translate(31.7 6.1) rotate(-28)" d="M-3.7 0C-2.0 -2.19 2.0 -2.19 3.7 0C2.0 2.19 -2.0 2.19 -3.7 0Z" fill="#2c1d84"/>
<path transform="translate(39.6 14.7) rotate(81)" d="M-4.0 0C-2.2 -2.19 2.2 -2.19 4.0 0C2.2 2.19 -2.2 2.19 -4.0 0Z" fill="#2c1d84"/>
<path transform="translate(60.2 15.9) rotate(-21)" d="M-4.0 0C-2.2 -2.19 2.2 -2.19 4.0 0C2.2 2.19 -2.2 2.19 -4.0 0Z" fill="#2c1d84"/>
<path transform="translate(48.5 24.3) rotate(-21)" d="M-4.2 0C-2.3 -2.19 2.3 -2.19 4.2 0C2.3 2.19 -2.3 2.19 -4.2 0Z" fill="#2c1d84"/>
<path transform="translate(61.3 21.0) rotate(63)" d="M-4.0 0C-2.2 -2.19 2.2 -2.19 4.0 0C2.2 2.19 -2.2 2.19 -4.0 0Z" fill="#2c1d84"/>
<path transform="translate(78.0 10.8) rotate(165)" d="M-5.6 0C-3.1 -2.19 3.1 -2.19 5.6 0C3.1 2.19 -3.1 2.19 -5.6 0Z" fill="#2c1d84"/>
<path transform="translate(89.0 4.9) rotate(-43)" d="M-4.0 0C-2.2 -2.19 2.2 -2.19 4.0 0C2.2 2.19 -2.2 2.19 -4.0 0Z" fill="#2c1d84"/>
<path transform="translate(34.2 34.2) rotate(117)" d="M-4.4 0C-2.4 -2.19 2.4 -2.19 4.4 0C2.4 2.19 -2.4 2.19 -4.4 0Z" fill="#2c1d84"/>
<path transform="translate(29.4 51.1) rotate(69)" d="M-4.0 0C-2.2 -2.19 2.2 -2.19 4.0 0C2.2 2.19 -2.2 2.19 -4.0 0Z" fill="#2c1d84"/>
<path transform="translate(39.5 63.7) rotate(21)" d="M-4.0 0C-2.2 -2.19 2.2 -2.19 4.0 0C2.2 2.19 -2.2 2.19 -4.0 0Z" fill="#2c1d84"/>
<path transform="translate(50.3 63.8) rotate(-32)" d="M-3.7 0C-2.0 -2.19 2.0 -2.19 3.7 0C2.0 2.19 -2.0 2.19 -3.7 0Z" fill="#2c1d84"/>
<path transform="translate(8.0 33.7) rotate(0)" d="M-4.2 0C-2.3 -2.19 2.3 -2.19 4.2 0C2.3 2.19 -2.3 2.19 -4.2 0Z" fill="#2c1d84"/>
<path transform="translate(5.2 43.2) rotate(-19)" d="M-4.2 0C-2.3 -2.19 2.3 -2.19 4.2 0C2.3 2.19 -2.3 2.19 -4.2 0Z" fill="#2c1d84"/>
<path transform="translate(65.0 66.5) rotate(83)" d="M-4.0 0C-2.2 -2.19 2.2 -2.19 4.0 0C2.2 2.19 -2.2 2.19 -4.0 0Z" fill="#2c1d84"/>
<path transform="translate(62.1 77.6) rotate(95)" d="M-4.0 0C-2.2 -2.19 2.2 -2.19 4.0 0C2.2 2.19 -2.2 2.19 -4.0 0Z" fill="#2c1d84"/>
<path transform="translate(65.2 29.4) rotate(27)" d="M-4.4 0C-2.4 -2.19 2.4 -2.19 4.4 0C2.4 2.19 -2.4 2.19 -4.4 0Z" fill="#2c1d84"/>
<path transform="translate(82.3 33.0) rotate(17)" d="M-4.0 0C-2.2 -2.19 2.2 -2.19 4.0 0C2.2 2.19 -2.2 2.19 -4.0 0Z" fill="#2c1d84"/>
<path transform="translate(99.3 34.7) rotate(-21)" d="M-4.0 0C-2.2 -2.19 2.2 -2.19 4.0 0C2.2 2.19 -2.2 2.19 -4.0 0Z" fill="#2c1d84"/>
<path transform="translate(97.8 17.2) rotate(-148)" d="M-4.0 0C-2.2 -2.19 2.2 -2.19 4.0 0C2.2 2.19 -2.2 2.19 -4.0 0Z" fill="#2c1d84"/>
<path transform="translate(75.2 56.4) rotate(37)" d="M-4.2 0C-2.3 -2.19 2.3 -2.19 4.2 0C2.3 2.19 -2.3 2.19 -4.2 0Z" fill="#2c1d84"/>
<path transform="translate(82.1 62.4) rotate(27)" d="M-4.0 0C-2.2 -2.19 2.2 -2.19 4.0 0C2.2 2.19 -2.2 2.19 -4.0 0Z" fill="#2c1d84"/>
<path transform="translate(97.2 65.4) rotate(-21)" d="M-4.0 0C-2.2 -2.19 2.2 -2.19 4.0 0C2.2 2.19 -2.2 2.19 -4.0 0Z" fill="#2c1d84"/>
<path transform="translate(95.5 66.2) rotate(-21)" d="M-3.5 0C-1.9 -2.19 1.9 -2.19 3.5 0C1.9 2.19 -1.9 2.19 -3.5 0Z" fill="#2c1d84"/>
<path transform="translate(104.8 74.2) rotate(34)" d="M-4.0 0C-2.2 -2.19 2.2 -2.19 4.0 0C2.2 2.19 -2.2 2.19 -4.0 0Z" fill="#2c1d84"/>
<path transform="translate(5.6 8.3) rotate(18)" d="M-3.5 0C-1.9 -2.19 1.9 -2.19 3.5 0C1.9 2.19 -1.9 2.19 -3.5 0Z" fill="#2c1d84"/>
</g>
<path d="M70.0 36.6L63.9 41.8" stroke="#111" stroke-width="2.5" fill="none"/>
<path transform="translate(60.5 44.6) rotate(140)" d="M0.4 0L-6.2 -3.8L-4.8 0L-6.2 3.8Z" fill="#111"/>
</g></g>
<g transform="translate(296.5 306.4)">
<clipPath id="cpdT2"><rect width="109.15" height="82.4"/></clipPath>
<linearGradient id="bgdT2" x1="0" y1="0" x2="1" y2="0.3"><stop offset="0" stop-color="#d0d1e3"/><stop offset="1" stop-color="#d6d7e7"/></linearGradient>
<g clip-path="url(#cpdT2)">
<rect x="-2" y="-2" width="113.15" height="86.4" fill="url(#bgdT2)"/>
<g filter="url(#blurA)" fill="none" stroke-linecap="round" stroke-linejoin="round">
<path d="M-1.5 3.6C0.1 3.5 5.1 2.9 8.1 3.0C11.1 3.0 14.0 4.3 16.6 4.0C19.1 3.8 22.2 1.9 23.4 1.5" stroke="#9f86c6" stroke-width="5.52"/>
<path d="M-1.5 19.3C-0.2 18.9 3.6 17.7 5.9 16.8C8.2 15.8 10.4 14.8 12.3 13.6C14.3 12.4 16.0 10.8 17.6 9.3C19.2 7.9 20.8 6.9 21.9 5.1C23.0 3.3 23.8 -0.2 24.2 -1.3" stroke="#9f86c6" stroke-width="5.76"/>
<path d="M24.0 -2.3C24.4 -0.2 25.6 6.9 26.1 10.4C26.7 13.9 26.5 16.1 27.2 18.9C27.9 21.7 28.6 25.6 30.4 27.4C32.1 29.2 35.5 29.7 37.8 29.5C40.1 29.3 42.6 28.1 44.2 26.3C45.8 24.6 46.3 21.2 47.4 18.9C48.4 16.6 48.9 14.3 50.5 12.5C52.1 10.8 54.4 9.2 56.9 8.3C59.4 7.4 62.6 7.0 65.4 7.2C68.2 7.4 71.1 8.3 73.9 9.3C76.7 10.4 79.9 11.6 82.4 13.6C84.9 15.5 87.3 18.4 88.8 21.0C90.2 23.7 90.5 28.1 90.9 29.5" stroke="#9f86c6" stroke-width="6.0"/>
<path d="M73.9 10.4C75.0 9.7 78.1 7.4 80.3 6.2C82.4 4.9 84.2 3.7 86.6 3.0C89.1 2.3 92.3 2.3 95.1 1.9C98.0 1.6 101.0 1.3 103.6 0.8C106.3 0.4 109.8 -0.4 111.1 -0.6" stroke="#9f86c6" stroke-width="5.76"/>
<path d="M56.9 9.3C57.4 10.8 59.0 15.0 60.1 17.8C61.2 20.7 62.0 23.9 63.3 26.3C64.5 28.8 66.1 30.4 67.5 32.7C68.9 35.0 70.5 37.7 71.8 40.1C73.0 42.6 73.9 45.8 75.0 47.6C76.0 49.3 77.6 50.2 78.1 50.8" stroke="#9f86c6" stroke-width="5.76"/>
<path d="M67.5 31.6C68.9 31.3 73.2 30.0 76.0 29.5C78.9 29.0 82.0 28.5 84.5 28.5C87.0 28.5 89.8 29.3 90.9 29.5" stroke="#9f86c6" stroke-width="5.52"/>
<path d="M90.9 29.5C90.9 30.9 91.2 35.0 90.9 38.0C90.5 41.0 89.8 45.6 88.8 47.6C87.7 49.5 86.3 49.2 84.5 49.7C82.7 50.2 79.2 50.6 78.1 50.8" stroke="#9f86c6" stroke-width="5.76"/>
<path d="M88.8 47.6C90.2 47.0 94.4 45.1 97.3 44.4C100.1 43.7 103.5 42.9 105.8 43.3C108.1 43.7 110.2 46.3 111.1 46.9" stroke="#9f86c6" stroke-width="5.76"/>
<path d="M-1.5 31.6C0.1 31.6 5.1 31.3 8.1 31.6C11.1 32.0 13.7 33.2 16.6 33.8C19.4 34.3 22.2 34.3 25.1 34.8C27.9 35.4 30.9 36.1 33.6 36.9C36.2 37.8 38.9 38.5 41.0 40.1C43.1 41.7 44.5 44.2 46.3 46.5C48.1 48.8 50.2 51.8 51.6 53.9C53.0 56.1 54.3 58.4 54.8 59.2" stroke="#9f86c6" stroke-width="5.76"/>
<path d="M-1.5 49.7C0.1 49.5 5.1 48.6 8.1 48.6C11.1 48.6 13.7 49.0 16.6 49.7C19.4 50.4 22.2 51.5 25.1 52.9C27.9 54.3 30.7 56.4 33.6 58.2C36.4 60.0 39.6 62.3 42.0 63.5C44.5 64.7 46.6 66.0 48.4 65.6C50.2 65.3 51.6 62.8 52.7 61.4C53.7 60.0 54.4 57.8 54.8 57.1" stroke="#9f86c6" stroke-width="5.76"/>
<path d="M5.9 55.0C6.7 56.1 8.1 59.4 10.2 61.4C12.3 63.3 15.9 65.3 18.7 66.7C21.5 68.1 24.4 69.2 27.2 69.9C30.0 70.6 32.8 71.1 35.7 70.9C38.5 70.7 41.9 69.7 44.2 68.8C46.5 67.9 48.6 66.1 49.5 65.6" stroke="#9f86c6" stroke-width="5.76"/>
<path d="M5.9 55.0C5.4 56.1 3.6 58.9 2.8 61.4C1.9 63.8 1.2 67.0 0.6 69.9C0.1 72.7 -0.8 75.9 -0.4 78.4C-0.1 80.8 2.2 83.7 2.8 84.7" stroke="#9f86c6" stroke-width="5.52"/>
<path d="M54.8 58.2C55.8 57.3 59.2 53.6 61.2 52.9C63.1 52.2 65.2 52.9 66.5 53.9C67.7 55.0 68.6 57.3 68.6 59.2C68.6 61.2 68.1 63.8 66.5 65.6C64.9 67.4 61.0 68.6 59.0 69.9C57.1 71.1 55.7 71.6 54.8 73.1C53.9 74.5 53.3 76.4 53.7 78.4C54.2 80.3 56.7 83.7 57.3 84.7" stroke="#9f86c6" stroke-width="5.76"/>
<path d="M67.5 65.6C68.6 66.3 71.8 68.3 73.9 69.9C76.0 71.5 78.5 73.6 80.3 75.2C82.0 76.8 83.4 77.8 84.5 79.4C85.6 81.0 86.6 83.8 87.1 84.7" stroke="#9f86c6" stroke-width="5.76"/>
<path d="M111.1 58.8C109.5 59.2 104.5 60.8 101.5 61.4C98.5 62.0 95.1 61.4 93.0 62.4C90.9 63.5 90.2 65.8 88.8 67.7C87.3 69.7 86.3 72.3 84.5 74.1C82.7 75.9 81.0 77.5 78.1 78.4C75.3 79.2 70.9 79.1 67.5 79.4C64.2 79.7 59.6 80.0 58.0 80.1" stroke="#9f86c6" stroke-width="5.76"/>
<path d="M105.8 61.4C105.9 62.8 107.0 67.0 106.8 69.9C106.6 72.7 105.2 75.9 104.7 78.4C104.2 80.8 103.8 83.7 103.6 84.7" stroke="#9f86c6" stroke-width="5.52"/>
<path d="M-1.5 3.6C0.1 3.5 5.1 2.9 8.1 3.0C11.1 3.0 14.0 4.3 16.6 4.0C19.1 3.8 22.2 1.9 23.4 1.5" stroke="#d1b9de" stroke-width="3.0"/>
<path d="M-1.5 19.3C-0.2 18.9 3.6 17.7 5.9 16.8C8.2 15.8 10.4 14.8 12.3 13.6C14.3 12.4 16.0 10.8 17.6 9.3C19.2 7.9 20.8 6.9 21.9 5.1C23.0 3.3 23.8 -0.2 24.2 -1.3" stroke="#d1b9de" stroke-width="3.3"/>
<path d="M24.0 -2.3C24.4 -0.2 25.6 6.9 26.1 10.4C26.7 13.9 26.5 16.1 27.2 18.9C27.9 21.7 28.6 25.6 30.4 27.4C32.1 29.2 35.5 29.7 37.8 29.5C40.1 29.3 42.6 28.1 44.2 26.3C45.8 24.6 46.3 21.2 47.4 18.9C48.4 16.6 48.9 14.3 50.5 12.5C52.1 10.8 54.4 9.2 56.9 8.3C59.4 7.4 62.6 7.0 65.4 7.2C68.2 7.4 71.1 8.3 73.9 9.3C76.7 10.4 79.9 11.6 82.4 13.6C84.9 15.5 87.3 18.4 88.8 21.0C90.2 23.7 90.5 28.1 90.9 29.5" stroke="#d1b9de" stroke-width="3.5"/>
<path d="M73.9 10.4C75.0 9.7 78.1 7.4 80.3 6.2C82.4 4.9 84.2 3.7 86.6 3.0C89.1 2.3 92.3 2.3 95.1 1.9C98.0 1.6 101.0 1.3 103.6 0.8C106.3 0.4 109.8 -0.4 111.1 -0.6" stroke="#d1b9de" stroke-width="3.3"/>
<path d="M56.9 9.3C57.4 10.8 59.0 15.0 60.1 17.8C61.2 20.7 62.0 23.9 63.3 26.3C64.5 28.8 66.1 30.4 67.5 32.7C68.9 35.0 70.5 37.7 71.8 40.1C73.0 42.6 73.9 45.8 75.0 47.6C76.0 49.3 77.6 50.2 78.1 50.8" stroke="#d1b9de" stroke-width="3.3"/>
<path d="M67.5 31.6C68.9 31.3 73.2 30.0 76.0 29.5C78.9 29.0 82.0 28.5 84.5 28.5C87.0 28.5 89.8 29.3 90.9 29.5" stroke="#d1b9de" stroke-width="3.0"/>
<path d="M90.9 29.5C90.9 30.9 91.2 35.0 90.9 38.0C90.5 41.0 89.8 45.6 88.8 47.6C87.7 49.5 86.3 49.2 84.5 49.7C82.7 50.2 79.2 50.6 78.1 50.8" stroke="#d1b9de" stroke-width="3.3"/>
<path d="M88.8 47.6C90.2 47.0 94.4 45.1 97.3 44.4C100.1 43.7 103.5 42.9 105.8 43.3C108.1 43.7 110.2 46.3 111.1 46.9" stroke="#d1b9de" stroke-width="3.3"/>
<path d="M-1.5 31.6C0.1 31.6 5.1 31.3 8.1 31.6C11.1 32.0 13.7 33.2 16.6 33.8C19.4 34.3 22.2 34.3 25.1 34.8C27.9 35.4 30.9 36.1 33.6 36.9C36.2 37.8 38.9 38.5 41.0 40.1C43.1 41.7 44.5 44.2 46.3 46.5C48.1 48.8 50.2 51.8 51.6 53.9C53.0 56.1 54.3 58.4 54.8 59.2" stroke="#d1b9de" stroke-width="3.3"/>
<path d="M-1.5 49.7C0.1 49.5 5.1 48.6 8.1 48.6C11.1 48.6 13.7 49.0 16.6 49.7C19.4 50.4 22.2 51.5 25.1 52.9C27.9 54.3 30.7 56.4 33.6 58.2C36.4 60.0 39.6 62.3 42.0 63.5C44.5 64.7 46.6 66.0 48.4 65.6C50.2 65.3 51.6 62.8 52.7 61.4C53.7 60.0 54.4 57.8 54.8 57.1" stroke="#d1b9de" stroke-width="3.3"/>
<path d="M5.9 55.0C6.7 56.1 8.1 59.4 10.2 61.4C12.3 63.3 15.9 65.3 18.7 66.7C21.5 68.1 24.4 69.2 27.2 69.9C30.0 70.6 32.8 71.1 35.7 70.9C38.5 70.7 41.9 69.7 44.2 68.8C46.5 67.9 48.6 66.1 49.5 65.6" stroke="#d1b9de" stroke-width="3.3"/>
<path d="M5.9 55.0C5.4 56.1 3.6 58.9 2.8 61.4C1.9 63.8 1.2 67.0 0.6 69.9C0.1 72.7 -0.8 75.9 -0.4 78.4C-0.1 80.8 2.2 83.7 2.8 84.7" stroke="#d1b9de" stroke-width="3.0"/>
<path d="M54.8 58.2C55.8 57.3 59.2 53.6 61.2 52.9C63.1 52.2 65.2 52.9 66.5 53.9C67.7 55.0 68.6 57.3 68.6 59.2C68.6 61.2 68.1 63.8 66.5 65.6C64.9 67.4 61.0 68.6 59.0 69.9C57.1 71.1 55.7 71.6 54.8 73.1C53.9 74.5 53.3 76.4 53.7 78.4C54.2 80.3 56.7 83.7 57.3 84.7" stroke="#d1b9de" stroke-width="3.3"/>
<path d="M67.5 65.6C68.6 66.3 71.8 68.3 73.9 69.9C76.0 71.5 78.5 73.6 80.3 75.2C82.0 76.8 83.4 77.8 84.5 79.4C85.6 81.0 86.6 83.8 87.1 84.7" stroke="#d1b9de" stroke-width="3.3"/>
<path d="M111.1 58.8C109.5 59.2 104.5 60.8 101.5 61.4C98.5 62.0 95.1 61.4 93.0 62.4C90.9 63.5 90.2 65.8 88.8 67.7C87.3 69.7 86.3 72.3 84.5 74.1C82.7 75.9 81.0 77.5 78.1 78.4C75.3 79.2 70.9 79.1 67.5 79.4C64.2 79.7 59.6 80.0 58.0 80.1" stroke="#d1b9de" stroke-width="3.3"/>
<path d="M105.8 61.4C105.9 62.8 107.0 67.0 106.8 69.9C106.6 72.7 105.2 75.9 104.7 78.4C104.2 80.8 103.8 83.7 103.6 84.7" stroke="#d1b9de" stroke-width="3.0"/>
</g>
<g filter="url(#blurB)">
<path transform="translate(3.8 3.1) rotate(-4)" d="M-4.0 0C-2.2 -2.19 2.2 -2.19 4.0 0C2.2 2.19 -2.2 2.19 -4.0 0Z" fill="#2c1d84"/>
<path transform="translate(7.4 18.6) rotate(-27)" d="M-4.4 0C-2.4 -2.19 2.4 -2.19 4.4 0C2.4 2.19 -2.4 2.19 -4.4 0Z" fill="#2c1d84"/>
<path transform="translate(23.1 6.3) rotate(81)" d="M-4.2 0C-2.3 -2.19 2.3 -2.19 4.2 0C2.3 2.19 -2.3 2.19 -4.2 0Z" fill="#2c1d84"/>
<path transform="translate(28.0 20.7) rotate(69)" d="M-4.2 0C-2.3 -2.19 2.3 -2.19 4.2 0C2.3 2.19 -2.3 2.19 -4.2 0Z" fill="#2c1d84"/>
<path transform="translate(31.2 30.4) rotate(16)" d="M-4.0 0C-2.2 -2.19 2.2 -2.19 4.0 0C2.2 2.19 -2.2 2.19 -4.0 0Z" fill="#2c1d84"/>
<path transform="translate(46.1 23.5) rotate(-67)" d="M-4.0 0C-2.2 -2.19 2.2 -2.19 4.0 0C2.2 2.19 -2.2 2.19 -4.0 0Z" fill="#2c1d84"/>
<path transform="translate(51.1 11.8) rotate(-34)" d="M-4.0 0C-2.2 -2.19 2.2 -2.19 4.0 0C2.2 2.19 -2.2 2.19 -4.0 0Z" fill="#2c1d84"/>
<path transform="translate(71.6 11.3) rotate(14)" d="M-4.4 0C-2.4 -2.19 2.4 -2.19 4.4 0C2.4 2.19 -2.4 2.19 -4.4 0Z" fill="#2c1d84"/>
<path transform="translate(87.9 23.4) rotate(76)" d="M-4.2 0C-2.3 -2.19 2.3 -2.19 4.2 0C2.3 2.19 -2.3 2.19 -4.2 0Z" fill="#2c1d84"/>
<path transform="translate(84.1 3.2) rotate(-27)" d="M-4.0 0C-2.2 -2.19 2.2 -2.19 4.0 0C2.2 2.19 -2.2 2.19 -4.0 0Z" fill="#2c1d84"/>
<path transform="translate(61.4 24.5) rotate(69)" d="M-4.2 0C-2.3 -2.19 2.3 -2.19 4.2 0C2.3 2.19 -2.3 2.19 -4.2 0Z" fill="#2c1d84"/>
<path transform="translate(69.9 37.4) rotate(60)" d="M-4.0 0C-2.2 -2.19 2.2 -2.19 4.0 0C2.2 2.19 -2.2 2.19 -4.0 0Z" fill="#2c1d84"/>
<path transform="translate(78.8 50.1) rotate(45)" d="M-4.0 0C-2.2 -2.19 2.2 -2.19 4.0 0C2.2 2.19 -2.2 2.19 -4.0 0Z" fill="#2c1d84"/>
<path transform="translate(90.1 47.3) rotate(-21)" d="M-4.0 0C-2.2 -2.19 2.2 -2.19 4.0 0C2.2 2.19 -2.2 2.19 -4.0 0Z" fill="#2c1d84"/>
<path transform="translate(106.3 48.3) rotate(34)" d="M-4.0 0C-2.2 -2.19 2.2 -2.19 4.0 0C2.2 2.19 -2.2 2.19 -4.0 0Z" fill="#2c1d84"/>
<path transform="translate(5.9 29.7) rotate(0)" d="M-4.4 0C-2.4 -2.19 2.4 -2.19 4.4 0C2.4 2.19 -2.4 2.19 -4.4 0Z" fill="#2c1d84"/>
<path transform="translate(55.6 57.5) rotate(-63)" d="M-4.0 0C-2.2 -2.19 2.2 -2.19 4.0 0C2.2 2.19 -2.2 2.19 -4.0 0Z" fill="#2c1d84"/>
<path transform="translate(4.1 54.6) rotate(117)" d="M-4.2 0C-2.3 -2.19 2.3 -2.19 4.2 0C2.3 2.19 -2.3 2.19 -4.2 0Z" fill="#2c1d84"/>
<path transform="translate(31.9 58.5) rotate(32)" d="M-4.0 0C-2.2 -2.19 2.2 -2.19 4.0 0C2.2 2.19 -2.2 2.19 -4.0 0Z" fill="#2c1d84"/>
<path transform="translate(42.8 65.4) rotate(18)" d="M-4.0 0C-2.2 -2.19 2.2 -2.19 4.0 0C2.2 2.19 -2.2 2.19 -4.0 0Z" fill="#2c1d84"/>
<path transform="translate(25.8 71.8) rotate(21)" d="M-4.0 0C-2.2 -2.19 2.2 -2.19 4.0 0C2.2 2.19 -2.2 2.19 -4.0 0Z" fill="#2c1d84"/>
<path transform="translate(2.5 79.0) rotate(63)" d="M-4.0 0C-2.2 -2.19 2.2 -2.19 4.0 0C2.2 2.19 -2.2 2.19 -4.0 0Z" fill="#2c1d84"/>
<path transform="translate(67.0 66.4) rotate(34)" d="M-4.0 0C-2.2 -2.19 2.2 -2.19 4.0 0C2.2 2.19 -2.2 2.19 -4.0 0Z" fill="#2c1d84"/>
<path transform="translate(55.3 72.3) rotate(143)" d="M-4.0 0C-2.2 -2.19 2.2 -2.19 4.0 0C2.2 2.19 -2.2 2.19 -4.0 0Z" fill="#2c1d84"/>
<path transform="translate(71.9 66.6) rotate(34)" d="M-3.5 0C-1.9 -2.19 1.9 -2.19 3.5 0C1.9 2.19 -1.9 2.19 -3.5 0Z" fill="#2c1d84"/>
<path transform="translate(80.7 77.9) rotate(45)" d="M-4.0 0C-2.2 -2.19 2.2 -2.19 4.0 0C2.2 2.19 -2.2 2.19 -4.0 0Z" fill="#2c1d84"/>
<path transform="translate(92.9 61.5) rotate(173)" d="M-3.7 0C-2.1 -2.19 2.1 -2.19 3.7 0C2.1 2.19 -2.1 2.19 -3.7 0Z" fill="#2c1d84"/>
<path transform="translate(106.6 67.6) rotate(83)" d="M-3.7 0C-2.1 -2.19 2.1 -2.19 3.7 0C2.1 2.19 -2.1 2.19 -3.7 0Z" fill="#2c1d84"/>
<path transform="translate(69.6 78.5) rotate(174)" d="M-4.0 0C-2.2 -2.19 2.2 -2.19 4.0 0C2.2 2.19 -2.2 2.19 -4.0 0Z" fill="#2c1d84"/>
<path transform="translate(75.2 30.4) rotate(-14)" d="M-3.5 0C-1.9 -2.19 1.9 -2.19 3.5 0C1.9 2.19 -1.9 2.19 -3.5 0Z" fill="#2c1d84"/>
<path transform="translate(103.5 0.2) rotate(-7)" d="M-3.7 0C-2.1 -2.19 2.1 -2.19 3.7 0C2.1 2.19 -2.1 2.19 -3.7 0Z" fill="#2c1d84"/>
</g>
<path d="M31.9 53.7L38.4 49.4" stroke="#111" stroke-width="2.5" fill="none"/>
<path transform="translate(42.0 46.9) rotate(-34)" d="M0.4 0L-6.2 -3.8L-4.8 0L-6.2 3.8Z" fill="#111"/>
</g></g>
<g transform="translate(409.4 306.4)">
<clipPath id="cpdHF"><rect width="109.1" height="82.4"/></clipPath>
<linearGradient id="bgdHF" x1="0" y1="0" x2="1" y2="0.3"><stop offset="0" stop-color="#d4d5e6"/><stop offset="1" stop-color="#dadbea"/></linearGradient>
<g clip-path="url(#cpdHF)">
<rect x="-2" y="-2" width="113.1" height="86.4" fill="url(#bgdHF)"/>
<g filter="url(#blurA)" fill="none" stroke-linecap="round" stroke-linejoin="round">
<path d="M-1.5 4.0C0.1 3.9 5.1 2.6 8.1 3.0C11.1 3.3 13.7 4.9 16.6 6.2C19.4 7.4 22.4 9.0 25.1 10.4C27.7 11.8 30.7 13.2 32.5 14.7C34.3 16.1 35.1 18.2 35.7 18.9" stroke="#9f86c6" stroke-width="6.0"/>
<path d="M35.7 18.9C36.0 20.3 37.1 24.6 37.8 27.4C38.5 30.2 39.4 33.1 39.9 35.9C40.5 38.7 41.2 41.6 41.0 44.4C40.8 47.2 39.9 50.4 38.9 52.9C37.8 55.4 36.2 57.5 34.6 59.2C33.0 61.0 31.3 62.1 29.3 63.5C27.4 64.9 25.1 66.1 22.9 67.7C20.8 69.3 18.7 71.1 16.6 73.1C14.4 75.0 11.7 77.5 10.2 79.4C8.7 81.4 8.1 83.8 7.6 84.7" stroke="#9f86c6" stroke-width="6.0"/>
<path d="M-0.4 10.4C-0.2 11.1 -0.1 12.5 0.6 14.7C1.3 16.8 2.6 20.3 3.8 23.1C5.1 26.0 6.7 28.8 8.1 31.6C9.5 34.5 11.4 37.3 12.3 40.1C13.2 43.0 12.8 45.8 13.4 48.6C13.9 51.5 14.6 54.3 15.5 57.1C16.4 60.0 17.8 63.4 18.7 65.6C19.6 67.8 20.5 69.5 20.8 70.3" stroke="#9f86c6" stroke-width="5.76"/>
<path d="M-1.5 49.9C0.1 49.5 5.1 48.3 8.1 47.6C11.1 46.8 13.7 46.2 16.6 45.4C19.4 44.7 22.2 44.0 25.1 43.3C27.9 42.6 30.7 41.9 33.6 41.2C36.4 40.5 39.2 40.0 42.0 39.1C44.9 38.2 47.7 36.9 50.5 35.9C53.4 34.8 56.9 33.8 59.0 32.7C61.2 31.6 62.6 30.0 63.3 29.5" stroke="#9f86c6" stroke-width="6.0"/>
<path d="M71.8 -3.4C72.0 -1.8 72.8 3.1 72.8 6.2C72.8 9.2 72.7 11.8 71.8 14.7C70.9 17.5 68.9 20.7 67.5 23.1C66.1 25.6 64.0 28.5 63.3 29.5" stroke="#9f86c6" stroke-width="6.0"/>
<path d="M63.3 29.5C64.0 30.6 66.1 33.9 67.5 35.9C68.9 37.8 70.7 40.0 71.8 41.2C72.8 42.4 73.5 43.0 73.9 43.3" stroke="#9f86c6" stroke-width="6.0"/>
<path d="M81.3 -3.4C81.2 -1.5 80.6 4.6 80.3 8.3C79.9 12.0 79.6 15.4 79.2 18.9C78.9 22.4 78.9 26.3 78.1 29.5C77.4 32.7 75.8 35.7 75.0 38.0C74.1 40.3 73.2 42.4 72.8 43.3" stroke="#9f86c6" stroke-width="5.76"/>
<path d="M73.9 43.3C75.3 43.3 79.6 43.5 82.4 43.3C85.2 43.1 88.1 42.3 90.9 42.3C93.7 42.3 96.0 42.4 99.4 43.3C102.7 44.3 109.1 47.2 111.1 48.0" stroke="#9f86c6" stroke-width="6.0"/>
<path d="M111.1 -0.2C110.2 1.6 107.3 7.2 105.8 10.4C104.2 13.6 102.9 16.1 101.5 18.9C100.1 21.7 98.5 24.6 97.3 27.4C96.0 30.2 94.8 33.5 94.1 35.9C93.4 38.3 93.2 40.7 93.0 41.6" stroke="#9f86c6" stroke-width="5.76"/>
<path d="M72.8 44.4C72.3 45.4 70.9 49.0 69.7 50.8C68.4 52.5 66.8 53.6 65.4 55.0C64.0 56.4 62.6 57.8 61.2 59.2C59.7 60.7 57.6 62.8 56.9 63.5" stroke="#9f86c6" stroke-width="6.0"/>
<path d="M18.7 72.0C20.1 71.8 24.4 71.3 27.2 70.9C30.0 70.6 32.8 70.4 35.7 69.9C38.5 69.3 41.3 68.4 44.2 67.7C47.0 67.0 49.8 66.3 52.7 65.6C55.5 64.9 58.3 64.0 61.2 63.5C64.0 63.0 66.8 62.4 69.7 62.4C72.5 62.4 75.7 62.8 78.1 63.5C80.6 64.2 82.6 65.3 84.5 66.7C86.5 68.1 88.4 70.0 89.8 72.0C91.2 73.9 92.3 76.2 93.0 78.4C93.8 80.5 94.1 83.7 94.3 84.7" stroke="#9f86c6" stroke-width="6.0"/>
<path d="M56.9 63.5C56.7 64.9 56.1 68.4 55.8 72.0C55.6 75.5 55.3 82.6 55.2 84.7" stroke="#9f86c6" stroke-width="5.52"/>
<path d="M-1.5 4.0C0.1 3.9 5.1 2.6 8.1 3.0C11.1 3.3 13.7 4.9 16.6 6.2C19.4 7.4 22.4 9.0 25.1 10.4C27.7 11.8 30.7 13.2 32.5 14.7C34.3 16.1 35.1 18.2 35.7 18.9" stroke="#d1b9de" stroke-width="3.5"/>
<path d="M35.7 18.9C36.0 20.3 37.1 24.6 37.8 27.4C38.5 30.2 39.4 33.1 39.9 35.9C40.5 38.7 41.2 41.6 41.0 44.4C40.8 47.2 39.9 50.4 38.9 52.9C37.8 55.4 36.2 57.5 34.6 59.2C33.0 61.0 31.3 62.1 29.3 63.5C27.4 64.9 25.1 66.1 22.9 67.7C20.8 69.3 18.7 71.1 16.6 73.1C14.4 75.0 11.7 77.5 10.2 79.4C8.7 81.4 8.1 83.8 7.6 84.7" stroke="#d1b9de" stroke-width="3.5"/>
<path d="M-0.4 10.4C-0.2 11.1 -0.1 12.5 0.6 14.7C1.3 16.8 2.6 20.3 3.8 23.1C5.1 26.0 6.7 28.8 8.1 31.6C9.5 34.5 11.4 37.3 12.3 40.1C13.2 43.0 12.8 45.8 13.4 48.6C13.9 51.5 14.6 54.3 15.5 57.1C16.4 60.0 17.8 63.4 18.7 65.6C19.6 67.8 20.5 69.5 20.8 70.3" stroke="#d1b9de" stroke-width="3.3"/>
<path d="M-1.5 49.9C0.1 49.5 5.1 48.3 8.1 47.6C11.1 46.8 13.7 46.2 16.6 45.4C19.4 44.7 22.2 44.0 25.1 43.3C27.9 42.6 30.7 41.9 33.6 41.2C36.4 40.5 39.2 40.0 42.0 39.1C44.9 38.2 47.7 36.9 50.5 35.9C53.4 34.8 56.9 33.8 59.0 32.7C61.2 31.6 62.6 30.0 63.3 29.5" stroke="#d1b9de" stroke-width="3.5"/>
<path d="M71.8 -3.4C72.0 -1.8 72.8 3.1 72.8 6.2C72.8 9.2 72.7 11.8 71.8 14.7C70.9 17.5 68.9 20.7 67.5 23.1C66.1 25.6 64.0 28.5 63.3 29.5" stroke="#d1b9de" stroke-width="3.5"/>
<path d="M63.3 29.5C64.0 30.6 66.1 33.9 67.5 35.9C68.9 37.8 70.7 40.0 71.8 41.2C72.8 42.4 73.5 43.0 73.9 43.3" stroke="#d1b9de" stroke-width="3.5"/>
<path d="M81.3 -3.4C81.2 -1.5 80.6 4.6 80.3 8.3C79.9 12.0 79.6 15.4 79.2 18.9C78.9 22.4 78.9 26.3 78.1 29.5C77.4 32.7 75.8 35.7 75.0 38.0C74.1 40.3 73.2 42.4 72.8 43.3" stroke="#d1b9de" stroke-width="3.3"/>
<path d="M73.9 43.3C75.3 43.3 79.6 43.5 82.4 43.3C85.2 43.1 88.1 42.3 90.9 42.3C93.7 42.3 96.0 42.4 99.4 43.3C102.7 44.3 109.1 47.2 111.1 48.0" stroke="#d1b9de" stroke-width="3.5"/>
<path d="M111.1 -0.2C110.2 1.6 107.3 7.2 105.8 10.4C104.2 13.6 102.9 16.1 101.5 18.9C100.1 21.7 98.5 24.6 97.3 27.4C96.0 30.2 94.8 33.5 94.1 35.9C93.4 38.3 93.2 40.7 93.0 41.6" stroke="#d1b9de" stroke-width="3.3"/>
<path d="M72.8 44.4C72.3 45.4 70.9 49.0 69.7 50.8C68.4 52.5 66.8 53.6 65.4 55.0C64.0 56.4 62.6 57.8 61.2 59.2C59.7 60.7 57.6 62.8 56.9 63.5" stroke="#d1b9de" stroke-width="3.5"/>
<path d="M18.7 72.0C20.1 71.8 24.4 71.3 27.2 70.9C30.0 70.6 32.8 70.4 35.7 69.9C38.5 69.3 41.3 68.4 44.2 67.7C47.0 67.0 49.8 66.3 52.7 65.6C55.5 64.9 58.3 64.0 61.2 63.5C64.0 63.0 66.8 62.4 69.7 62.4C72.5 62.4 75.7 62.8 78.1 63.5C80.6 64.2 82.6 65.3 84.5 66.7C86.5 68.1 88.4 70.0 89.8 72.0C91.2 73.9 92.3 76.2 93.0 78.4C93.8 80.5 94.1 83.7 94.3 84.7" stroke="#d1b9de" stroke-width="3.5"/>
<path d="M56.9 63.5C56.7 64.9 56.1 68.4 55.8 72.0C55.6 75.5 55.3 82.6 55.2 84.7" stroke="#d1b9de" stroke-width="3.0"/>
</g>
<g filter="url(#blurB)">
<path transform="translate(6.9 2.1) rotate(-6)" d="M-4.7 0C-2.6 -2.19 2.6 -2.19 4.7 0C2.6 2.19 -2.6 2.19 -4.7 0Z" fill="#2c1d84"/>
<path transform="translate(20.4 8.4) rotate(27)" d="M-4.4 0C-2.4 -2.19 2.4 -2.19 4.4 0C2.4 2.19 -2.4 2.19 -4.4 0Z" fill="#2c1d84"/>
<path transform="translate(31.0 13.7) rotate(30)" d="M-4.0 0C-2.2 -2.19 2.2 -2.19 4.0 0C2.2 2.19 -2.2 2.19 -4.0 0Z" fill="#2c1d84"/>
<path transform="translate(40.8 31.4) rotate(76)" d="M-4.0 0C-2.2 -2.19 2.2 -2.19 4.0 0C2.2 2.19 -2.2 2.19 -4.0 0Z" fill="#2c1d84"/>
<path transform="translate(36.0 56.6) rotate(124)" d="M-3.7 0C-2.1 -2.19 2.1 -2.19 3.7 0C2.1 2.19 -2.1 2.19 -3.7 0Z" fill="#2c1d84"/>
<path transform="translate(11.4 41.3) rotate(83)" d="M-4.4 0C-2.4 -2.19 2.4 -2.19 4.4 0C2.4 2.19 -2.4 2.19 -4.4 0Z" fill="#2c1d84"/>
<path transform="translate(5.3 47.8) rotate(-14)" d="M-4.7 0C-2.6 -2.19 2.6 -2.19 4.7 0C2.6 2.19 -2.6 2.19 -4.7 0Z" fill="#2c1d84"/>
<path transform="translate(47.7 37.8) rotate(-21)" d="M-4.0 0C-2.2 -2.19 2.2 -2.19 4.0 0C2.2 2.19 -2.2 2.19 -4.0 0Z" fill="#2c1d84"/>
<path transform="translate(62.8 31.3) rotate(-37)" d="M-4.0 0C-2.2 -2.19 2.2 -2.19 4.0 0C2.2 2.19 -2.2 2.19 -4.0 0Z" fill="#2c1d84"/>
<path transform="translate(73.3 1.8) rotate(84)" d="M-4.0 0C-2.2 -2.19 2.2 -2.19 4.0 0C2.2 2.19 -2.2 2.19 -4.0 0Z" fill="#2c1d84"/>
<path transform="translate(73.1 41.9) rotate(112)" d="M-4.7 0C-2.6 -2.19 2.6 -2.19 4.7 0C2.6 2.19 -2.6 2.19 -4.7 0Z" fill="#2c1d84"/>
<path transform="translate(79.4 12.4) rotate(96)" d="M-4.0 0C-2.2 -2.19 2.2 -2.19 4.0 0C2.2 2.19 -2.2 2.19 -4.0 0Z" fill="#2c1d84"/>
<path transform="translate(76.2 36.2) rotate(111)" d="M-4.0 0C-2.2 -2.19 2.2 -2.19 4.0 0C2.2 2.19 -2.2 2.19 -4.0 0Z" fill="#2c1d84"/>
<path transform="translate(92.1 40.0) rotate(100)" d="M-4.4 0C-2.4 -2.19 2.4 -2.19 4.4 0C2.4 2.19 -2.4 2.19 -4.4 0Z" fill="#2c1d84"/>
<path transform="translate(103.9 6.8) rotate(117)" d="M-4.0 0C-2.2 -2.19 2.2 -2.19 4.0 0C2.2 2.19 -2.2 2.19 -4.0 0Z" fill="#2c1d84"/>
<path transform="translate(100.2 23.5) rotate(117)" d="M-4.0 0C-2.2 -2.19 2.2 -2.19 4.0 0C2.2 2.19 -2.2 2.19 -4.0 0Z" fill="#2c1d84"/>
<path transform="translate(62.6 57.5) rotate(135)" d="M-4.0 0C-2.2 -2.19 2.2 -2.19 4.0 0C2.2 2.19 -2.2 2.19 -4.0 0Z" fill="#2c1d84"/>
<path transform="translate(56.3 61.8) rotate(135)" d="M-4.0 0C-2.2 -2.19 2.2 -2.19 4.0 0C2.2 2.19 -2.2 2.19 -4.0 0Z" fill="#2c1d84"/>
<path transform="translate(34.5 74.3) rotate(-7)" d="M-4.2 0C-2.3 -2.19 2.3 -2.19 4.2 0C2.3 2.19 -2.3 2.19 -4.2 0Z" fill="#2c1d84"/>
<path transform="translate(79.9 65.4) rotate(27)" d="M-4.2 0C-2.3 -2.19 2.3 -2.19 4.2 0C2.3 2.19 -2.3 2.19 -4.2 0Z" fill="#2c1d84"/>
<path transform="translate(91.1 77.7) rotate(63)" d="M-4.0 0C-2.2 -2.19 2.2 -2.19 4.0 0C2.2 2.19 -2.2 2.19 -4.0 0Z" fill="#2c1d84"/>
<path transform="translate(12.1 80.9) rotate(116)" d="M-4.0 0C-2.2 -2.19 2.2 -2.19 4.0 0C2.2 2.19 -2.2 2.19 -4.0 0Z" fill="#2c1d84"/>
<path transform="translate(55.6 67.6) rotate(97)" d="M-3.5 0C-1.9 -2.19 1.9 -2.19 3.5 0C1.9 2.19 -1.9 2.19 -3.5 0Z" fill="#2c1d84"/>
</g>
</g></g>
</svg>
</body></html>
